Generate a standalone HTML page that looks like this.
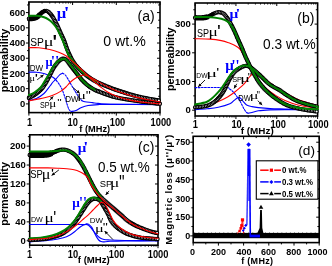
<!DOCTYPE html>
<html><head><meta charset="utf-8"><style>
html,body{margin:0;padding:0;background:#fff;overflow:hidden;width:332px;height:266px;}
svg{display:block;}
</style></head><body>
<svg width="332" height="266" viewBox="0 0 332 266" font-family="Liberation Sans, Arial, sans-serif">
<rect width="332" height="266" fill="#fff"/>
<rect x="28.90" y="2.00" width="131.10" height="110.60" fill="none" stroke="#000" stroke-width="1.6"/>
<rect x="195.10" y="3.00" width="122.50" height="113.00" fill="none" stroke="#000" stroke-width="1.6"/>
<rect x="29.70" y="134.80" width="128.30" height="110.40" fill="none" stroke="#000" stroke-width="1.6"/>
<rect x="193.20" y="136.30" width="126.00" height="106.30" fill="none" stroke="#000" stroke-width="1.6"/>
<line x1="28.90" y1="112.60" x2="28.90" y2="115.60" stroke="#000" stroke-width="1.0" />
<line x1="28.90" y1="2.00" x2="28.90" y2="5.00" stroke="#000" stroke-width="1.0" />
<line x1="42.06" y1="112.60" x2="42.06" y2="114.20" stroke="#000" stroke-width="0.8" />
<line x1="42.06" y1="2.00" x2="42.06" y2="3.60" stroke="#000" stroke-width="0.8" />
<line x1="49.75" y1="112.60" x2="49.75" y2="114.20" stroke="#000" stroke-width="0.8" />
<line x1="49.75" y1="2.00" x2="49.75" y2="3.60" stroke="#000" stroke-width="0.8" />
<line x1="55.21" y1="112.60" x2="55.21" y2="114.20" stroke="#000" stroke-width="0.8" />
<line x1="55.21" y1="2.00" x2="55.21" y2="3.60" stroke="#000" stroke-width="0.8" />
<line x1="59.44" y1="112.60" x2="59.44" y2="114.20" stroke="#000" stroke-width="0.8" />
<line x1="59.44" y1="2.00" x2="59.44" y2="3.60" stroke="#000" stroke-width="0.8" />
<line x1="62.91" y1="112.60" x2="62.91" y2="114.20" stroke="#000" stroke-width="0.8" />
<line x1="62.91" y1="2.00" x2="62.91" y2="3.60" stroke="#000" stroke-width="0.8" />
<line x1="65.83" y1="112.60" x2="65.83" y2="114.20" stroke="#000" stroke-width="0.8" />
<line x1="65.83" y1="2.00" x2="65.83" y2="3.60" stroke="#000" stroke-width="0.8" />
<line x1="68.37" y1="112.60" x2="68.37" y2="114.20" stroke="#000" stroke-width="0.8" />
<line x1="68.37" y1="2.00" x2="68.37" y2="3.60" stroke="#000" stroke-width="0.8" />
<line x1="70.60" y1="112.60" x2="70.60" y2="114.20" stroke="#000" stroke-width="0.8" />
<line x1="70.60" y1="2.00" x2="70.60" y2="3.60" stroke="#000" stroke-width="0.8" />
<line x1="72.60" y1="112.60" x2="72.60" y2="115.60" stroke="#000" stroke-width="1.0" />
<line x1="72.60" y1="2.00" x2="72.60" y2="5.00" stroke="#000" stroke-width="1.0" />
<line x1="85.76" y1="112.60" x2="85.76" y2="114.20" stroke="#000" stroke-width="0.8" />
<line x1="85.76" y1="2.00" x2="85.76" y2="3.60" stroke="#000" stroke-width="0.8" />
<line x1="93.45" y1="112.60" x2="93.45" y2="114.20" stroke="#000" stroke-width="0.8" />
<line x1="93.45" y1="2.00" x2="93.45" y2="3.60" stroke="#000" stroke-width="0.8" />
<line x1="98.91" y1="112.60" x2="98.91" y2="114.20" stroke="#000" stroke-width="0.8" />
<line x1="98.91" y1="2.00" x2="98.91" y2="3.60" stroke="#000" stroke-width="0.8" />
<line x1="103.14" y1="112.60" x2="103.14" y2="114.20" stroke="#000" stroke-width="0.8" />
<line x1="103.14" y1="2.00" x2="103.14" y2="3.60" stroke="#000" stroke-width="0.8" />
<line x1="106.61" y1="112.60" x2="106.61" y2="114.20" stroke="#000" stroke-width="0.8" />
<line x1="106.61" y1="2.00" x2="106.61" y2="3.60" stroke="#000" stroke-width="0.8" />
<line x1="109.53" y1="112.60" x2="109.53" y2="114.20" stroke="#000" stroke-width="0.8" />
<line x1="109.53" y1="2.00" x2="109.53" y2="3.60" stroke="#000" stroke-width="0.8" />
<line x1="112.07" y1="112.60" x2="112.07" y2="114.20" stroke="#000" stroke-width="0.8" />
<line x1="112.07" y1="2.00" x2="112.07" y2="3.60" stroke="#000" stroke-width="0.8" />
<line x1="114.30" y1="112.60" x2="114.30" y2="114.20" stroke="#000" stroke-width="0.8" />
<line x1="114.30" y1="2.00" x2="114.30" y2="3.60" stroke="#000" stroke-width="0.8" />
<line x1="116.30" y1="112.60" x2="116.30" y2="115.60" stroke="#000" stroke-width="1.0" />
<line x1="116.30" y1="2.00" x2="116.30" y2="5.00" stroke="#000" stroke-width="1.0" />
<line x1="129.46" y1="112.60" x2="129.46" y2="114.20" stroke="#000" stroke-width="0.8" />
<line x1="129.46" y1="2.00" x2="129.46" y2="3.60" stroke="#000" stroke-width="0.8" />
<line x1="137.15" y1="112.60" x2="137.15" y2="114.20" stroke="#000" stroke-width="0.8" />
<line x1="137.15" y1="2.00" x2="137.15" y2="3.60" stroke="#000" stroke-width="0.8" />
<line x1="142.61" y1="112.60" x2="142.61" y2="114.20" stroke="#000" stroke-width="0.8" />
<line x1="142.61" y1="2.00" x2="142.61" y2="3.60" stroke="#000" stroke-width="0.8" />
<line x1="146.84" y1="112.60" x2="146.84" y2="114.20" stroke="#000" stroke-width="0.8" />
<line x1="146.84" y1="2.00" x2="146.84" y2="3.60" stroke="#000" stroke-width="0.8" />
<line x1="150.31" y1="112.60" x2="150.31" y2="114.20" stroke="#000" stroke-width="0.8" />
<line x1="150.31" y1="2.00" x2="150.31" y2="3.60" stroke="#000" stroke-width="0.8" />
<line x1="153.23" y1="112.60" x2="153.23" y2="114.20" stroke="#000" stroke-width="0.8" />
<line x1="153.23" y1="2.00" x2="153.23" y2="3.60" stroke="#000" stroke-width="0.8" />
<line x1="155.77" y1="112.60" x2="155.77" y2="114.20" stroke="#000" stroke-width="0.8" />
<line x1="155.77" y1="2.00" x2="155.77" y2="3.60" stroke="#000" stroke-width="0.8" />
<line x1="158.00" y1="112.60" x2="158.00" y2="114.20" stroke="#000" stroke-width="0.8" />
<line x1="158.00" y1="2.00" x2="158.00" y2="3.60" stroke="#000" stroke-width="0.8" />
<line x1="160.00" y1="112.60" x2="160.00" y2="115.60" stroke="#000" stroke-width="1.0" />
<line x1="160.00" y1="2.00" x2="160.00" y2="5.00" stroke="#000" stroke-width="1.0" />
<line x1="195.10" y1="116.00" x2="195.10" y2="119.00" stroke="#000" stroke-width="1.0" />
<line x1="195.10" y1="3.00" x2="195.10" y2="6.00" stroke="#000" stroke-width="1.0" />
<line x1="207.39" y1="116.00" x2="207.39" y2="117.60" stroke="#000" stroke-width="0.8" />
<line x1="207.39" y1="3.00" x2="207.39" y2="4.60" stroke="#000" stroke-width="0.8" />
<line x1="214.58" y1="116.00" x2="214.58" y2="117.60" stroke="#000" stroke-width="0.8" />
<line x1="214.58" y1="3.00" x2="214.58" y2="4.60" stroke="#000" stroke-width="0.8" />
<line x1="219.68" y1="116.00" x2="219.68" y2="117.60" stroke="#000" stroke-width="0.8" />
<line x1="219.68" y1="3.00" x2="219.68" y2="4.60" stroke="#000" stroke-width="0.8" />
<line x1="223.64" y1="116.00" x2="223.64" y2="117.60" stroke="#000" stroke-width="0.8" />
<line x1="223.64" y1="3.00" x2="223.64" y2="4.60" stroke="#000" stroke-width="0.8" />
<line x1="226.87" y1="116.00" x2="226.87" y2="117.60" stroke="#000" stroke-width="0.8" />
<line x1="226.87" y1="3.00" x2="226.87" y2="4.60" stroke="#000" stroke-width="0.8" />
<line x1="229.61" y1="116.00" x2="229.61" y2="117.60" stroke="#000" stroke-width="0.8" />
<line x1="229.61" y1="3.00" x2="229.61" y2="4.60" stroke="#000" stroke-width="0.8" />
<line x1="231.98" y1="116.00" x2="231.98" y2="117.60" stroke="#000" stroke-width="0.8" />
<line x1="231.98" y1="3.00" x2="231.98" y2="4.60" stroke="#000" stroke-width="0.8" />
<line x1="234.06" y1="116.00" x2="234.06" y2="117.60" stroke="#000" stroke-width="0.8" />
<line x1="234.06" y1="3.00" x2="234.06" y2="4.60" stroke="#000" stroke-width="0.8" />
<line x1="235.93" y1="116.00" x2="235.93" y2="119.00" stroke="#000" stroke-width="1.0" />
<line x1="235.93" y1="3.00" x2="235.93" y2="6.00" stroke="#000" stroke-width="1.0" />
<line x1="248.23" y1="116.00" x2="248.23" y2="117.60" stroke="#000" stroke-width="0.8" />
<line x1="248.23" y1="3.00" x2="248.23" y2="4.60" stroke="#000" stroke-width="0.8" />
<line x1="255.42" y1="116.00" x2="255.42" y2="117.60" stroke="#000" stroke-width="0.8" />
<line x1="255.42" y1="3.00" x2="255.42" y2="4.60" stroke="#000" stroke-width="0.8" />
<line x1="260.52" y1="116.00" x2="260.52" y2="117.60" stroke="#000" stroke-width="0.8" />
<line x1="260.52" y1="3.00" x2="260.52" y2="4.60" stroke="#000" stroke-width="0.8" />
<line x1="264.47" y1="116.00" x2="264.47" y2="117.60" stroke="#000" stroke-width="0.8" />
<line x1="264.47" y1="3.00" x2="264.47" y2="4.60" stroke="#000" stroke-width="0.8" />
<line x1="267.71" y1="116.00" x2="267.71" y2="117.60" stroke="#000" stroke-width="0.8" />
<line x1="267.71" y1="3.00" x2="267.71" y2="4.60" stroke="#000" stroke-width="0.8" />
<line x1="270.44" y1="116.00" x2="270.44" y2="117.60" stroke="#000" stroke-width="0.8" />
<line x1="270.44" y1="3.00" x2="270.44" y2="4.60" stroke="#000" stroke-width="0.8" />
<line x1="272.81" y1="116.00" x2="272.81" y2="117.60" stroke="#000" stroke-width="0.8" />
<line x1="272.81" y1="3.00" x2="272.81" y2="4.60" stroke="#000" stroke-width="0.8" />
<line x1="274.90" y1="116.00" x2="274.90" y2="117.60" stroke="#000" stroke-width="0.8" />
<line x1="274.90" y1="3.00" x2="274.90" y2="4.60" stroke="#000" stroke-width="0.8" />
<line x1="276.77" y1="116.00" x2="276.77" y2="119.00" stroke="#000" stroke-width="1.0" />
<line x1="276.77" y1="3.00" x2="276.77" y2="6.00" stroke="#000" stroke-width="1.0" />
<line x1="289.06" y1="116.00" x2="289.06" y2="117.60" stroke="#000" stroke-width="0.8" />
<line x1="289.06" y1="3.00" x2="289.06" y2="4.60" stroke="#000" stroke-width="0.8" />
<line x1="296.25" y1="116.00" x2="296.25" y2="117.60" stroke="#000" stroke-width="0.8" />
<line x1="296.25" y1="3.00" x2="296.25" y2="4.60" stroke="#000" stroke-width="0.8" />
<line x1="301.35" y1="116.00" x2="301.35" y2="117.60" stroke="#000" stroke-width="0.8" />
<line x1="301.35" y1="3.00" x2="301.35" y2="4.60" stroke="#000" stroke-width="0.8" />
<line x1="305.31" y1="116.00" x2="305.31" y2="117.60" stroke="#000" stroke-width="0.8" />
<line x1="305.31" y1="3.00" x2="305.31" y2="4.60" stroke="#000" stroke-width="0.8" />
<line x1="308.54" y1="116.00" x2="308.54" y2="117.60" stroke="#000" stroke-width="0.8" />
<line x1="308.54" y1="3.00" x2="308.54" y2="4.60" stroke="#000" stroke-width="0.8" />
<line x1="311.27" y1="116.00" x2="311.27" y2="117.60" stroke="#000" stroke-width="0.8" />
<line x1="311.27" y1="3.00" x2="311.27" y2="4.60" stroke="#000" stroke-width="0.8" />
<line x1="313.64" y1="116.00" x2="313.64" y2="117.60" stroke="#000" stroke-width="0.8" />
<line x1="313.64" y1="3.00" x2="313.64" y2="4.60" stroke="#000" stroke-width="0.8" />
<line x1="315.73" y1="116.00" x2="315.73" y2="117.60" stroke="#000" stroke-width="0.8" />
<line x1="315.73" y1="3.00" x2="315.73" y2="4.60" stroke="#000" stroke-width="0.8" />
<line x1="317.60" y1="116.00" x2="317.60" y2="119.00" stroke="#000" stroke-width="1.0" />
<line x1="317.60" y1="3.00" x2="317.60" y2="6.00" stroke="#000" stroke-width="1.0" />
<line x1="29.70" y1="245.20" x2="29.70" y2="248.20" stroke="#000" stroke-width="1.0" />
<line x1="29.70" y1="134.80" x2="29.70" y2="137.80" stroke="#000" stroke-width="1.0" />
<line x1="42.57" y1="245.20" x2="42.57" y2="246.80" stroke="#000" stroke-width="0.8" />
<line x1="42.57" y1="134.80" x2="42.57" y2="136.40" stroke="#000" stroke-width="0.8" />
<line x1="50.10" y1="245.20" x2="50.10" y2="246.80" stroke="#000" stroke-width="0.8" />
<line x1="50.10" y1="134.80" x2="50.10" y2="136.40" stroke="#000" stroke-width="0.8" />
<line x1="55.45" y1="245.20" x2="55.45" y2="246.80" stroke="#000" stroke-width="0.8" />
<line x1="55.45" y1="134.80" x2="55.45" y2="136.40" stroke="#000" stroke-width="0.8" />
<line x1="59.59" y1="245.20" x2="59.59" y2="246.80" stroke="#000" stroke-width="0.8" />
<line x1="59.59" y1="134.80" x2="59.59" y2="136.40" stroke="#000" stroke-width="0.8" />
<line x1="62.98" y1="245.20" x2="62.98" y2="246.80" stroke="#000" stroke-width="0.8" />
<line x1="62.98" y1="134.80" x2="62.98" y2="136.40" stroke="#000" stroke-width="0.8" />
<line x1="65.84" y1="245.20" x2="65.84" y2="246.80" stroke="#000" stroke-width="0.8" />
<line x1="65.84" y1="134.80" x2="65.84" y2="136.40" stroke="#000" stroke-width="0.8" />
<line x1="68.32" y1="245.20" x2="68.32" y2="246.80" stroke="#000" stroke-width="0.8" />
<line x1="68.32" y1="134.80" x2="68.32" y2="136.40" stroke="#000" stroke-width="0.8" />
<line x1="70.51" y1="245.20" x2="70.51" y2="246.80" stroke="#000" stroke-width="0.8" />
<line x1="70.51" y1="134.80" x2="70.51" y2="136.40" stroke="#000" stroke-width="0.8" />
<line x1="72.47" y1="245.20" x2="72.47" y2="248.20" stroke="#000" stroke-width="1.0" />
<line x1="72.47" y1="134.80" x2="72.47" y2="137.80" stroke="#000" stroke-width="1.0" />
<line x1="85.34" y1="245.20" x2="85.34" y2="246.80" stroke="#000" stroke-width="0.8" />
<line x1="85.34" y1="134.80" x2="85.34" y2="136.40" stroke="#000" stroke-width="0.8" />
<line x1="92.87" y1="245.20" x2="92.87" y2="246.80" stroke="#000" stroke-width="0.8" />
<line x1="92.87" y1="134.80" x2="92.87" y2="136.40" stroke="#000" stroke-width="0.8" />
<line x1="98.21" y1="245.20" x2="98.21" y2="246.80" stroke="#000" stroke-width="0.8" />
<line x1="98.21" y1="134.80" x2="98.21" y2="136.40" stroke="#000" stroke-width="0.8" />
<line x1="102.36" y1="245.20" x2="102.36" y2="246.80" stroke="#000" stroke-width="0.8" />
<line x1="102.36" y1="134.80" x2="102.36" y2="136.40" stroke="#000" stroke-width="0.8" />
<line x1="105.75" y1="245.20" x2="105.75" y2="246.80" stroke="#000" stroke-width="0.8" />
<line x1="105.75" y1="134.80" x2="105.75" y2="136.40" stroke="#000" stroke-width="0.8" />
<line x1="108.61" y1="245.20" x2="108.61" y2="246.80" stroke="#000" stroke-width="0.8" />
<line x1="108.61" y1="134.80" x2="108.61" y2="136.40" stroke="#000" stroke-width="0.8" />
<line x1="111.09" y1="245.20" x2="111.09" y2="246.80" stroke="#000" stroke-width="0.8" />
<line x1="111.09" y1="134.80" x2="111.09" y2="136.40" stroke="#000" stroke-width="0.8" />
<line x1="113.28" y1="245.20" x2="113.28" y2="246.80" stroke="#000" stroke-width="0.8" />
<line x1="113.28" y1="134.80" x2="113.28" y2="136.40" stroke="#000" stroke-width="0.8" />
<line x1="115.23" y1="245.20" x2="115.23" y2="248.20" stroke="#000" stroke-width="1.0" />
<line x1="115.23" y1="134.80" x2="115.23" y2="137.80" stroke="#000" stroke-width="1.0" />
<line x1="128.11" y1="245.20" x2="128.11" y2="246.80" stroke="#000" stroke-width="0.8" />
<line x1="128.11" y1="134.80" x2="128.11" y2="136.40" stroke="#000" stroke-width="0.8" />
<line x1="135.64" y1="245.20" x2="135.64" y2="246.80" stroke="#000" stroke-width="0.8" />
<line x1="135.64" y1="134.80" x2="135.64" y2="136.40" stroke="#000" stroke-width="0.8" />
<line x1="140.98" y1="245.20" x2="140.98" y2="246.80" stroke="#000" stroke-width="0.8" />
<line x1="140.98" y1="134.80" x2="140.98" y2="136.40" stroke="#000" stroke-width="0.8" />
<line x1="145.13" y1="245.20" x2="145.13" y2="246.80" stroke="#000" stroke-width="0.8" />
<line x1="145.13" y1="134.80" x2="145.13" y2="136.40" stroke="#000" stroke-width="0.8" />
<line x1="148.51" y1="245.20" x2="148.51" y2="246.80" stroke="#000" stroke-width="0.8" />
<line x1="148.51" y1="134.80" x2="148.51" y2="136.40" stroke="#000" stroke-width="0.8" />
<line x1="151.38" y1="245.20" x2="151.38" y2="246.80" stroke="#000" stroke-width="0.8" />
<line x1="151.38" y1="134.80" x2="151.38" y2="136.40" stroke="#000" stroke-width="0.8" />
<line x1="153.86" y1="245.20" x2="153.86" y2="246.80" stroke="#000" stroke-width="0.8" />
<line x1="153.86" y1="134.80" x2="153.86" y2="136.40" stroke="#000" stroke-width="0.8" />
<line x1="156.04" y1="245.20" x2="156.04" y2="246.80" stroke="#000" stroke-width="0.8" />
<line x1="156.04" y1="134.80" x2="156.04" y2="136.40" stroke="#000" stroke-width="0.8" />
<line x1="158.00" y1="245.20" x2="158.00" y2="248.20" stroke="#000" stroke-width="1.0" />
<line x1="158.00" y1="134.80" x2="158.00" y2="137.80" stroke="#000" stroke-width="1.0" />
<line x1="193.20" y1="242.60" x2="193.20" y2="245.60" stroke="#000" stroke-width="1.0" />
<line x1="193.20" y1="136.30" x2="193.20" y2="139.30" stroke="#000" stroke-width="1.0" />
<line x1="218.40" y1="242.60" x2="218.40" y2="245.60" stroke="#000" stroke-width="1.0" />
<line x1="218.40" y1="136.30" x2="218.40" y2="139.30" stroke="#000" stroke-width="1.0" />
<line x1="243.60" y1="242.60" x2="243.60" y2="245.60" stroke="#000" stroke-width="1.0" />
<line x1="243.60" y1="136.30" x2="243.60" y2="139.30" stroke="#000" stroke-width="1.0" />
<line x1="268.80" y1="242.60" x2="268.80" y2="245.60" stroke="#000" stroke-width="1.0" />
<line x1="268.80" y1="136.30" x2="268.80" y2="139.30" stroke="#000" stroke-width="1.0" />
<line x1="294.00" y1="242.60" x2="294.00" y2="245.60" stroke="#000" stroke-width="1.0" />
<line x1="294.00" y1="136.30" x2="294.00" y2="139.30" stroke="#000" stroke-width="1.0" />
<line x1="319.20" y1="242.60" x2="319.20" y2="245.60" stroke="#000" stroke-width="1.0" />
<line x1="319.20" y1="136.30" x2="319.20" y2="139.30" stroke="#000" stroke-width="1.0" />
<line x1="205.80" y1="242.60" x2="205.80" y2="244.40" stroke="#000" stroke-width="1.0" />
<line x1="205.80" y1="136.30" x2="205.80" y2="138.10" stroke="#000" stroke-width="1.0" />
<line x1="231.00" y1="242.60" x2="231.00" y2="244.40" stroke="#000" stroke-width="1.0" />
<line x1="231.00" y1="136.30" x2="231.00" y2="138.10" stroke="#000" stroke-width="1.0" />
<line x1="256.20" y1="242.60" x2="256.20" y2="244.40" stroke="#000" stroke-width="1.0" />
<line x1="256.20" y1="136.30" x2="256.20" y2="138.10" stroke="#000" stroke-width="1.0" />
<line x1="281.40" y1="242.60" x2="281.40" y2="244.40" stroke="#000" stroke-width="1.0" />
<line x1="281.40" y1="136.30" x2="281.40" y2="138.10" stroke="#000" stroke-width="1.0" />
<line x1="306.60" y1="242.60" x2="306.60" y2="244.40" stroke="#000" stroke-width="1.0" />
<line x1="306.60" y1="136.30" x2="306.60" y2="138.10" stroke="#000" stroke-width="1.0" />
<line x1="25.90" y1="103.90" x2="28.90" y2="103.90" stroke="#000" stroke-width="1.0" />
<line x1="157.00" y1="103.90" x2="160.00" y2="103.90" stroke="#000" stroke-width="1.0" />
<line x1="25.90" y1="88.68" x2="28.90" y2="88.68" stroke="#000" stroke-width="1.0" />
<line x1="157.00" y1="88.68" x2="160.00" y2="88.68" stroke="#000" stroke-width="1.0" />
<line x1="25.90" y1="73.46" x2="28.90" y2="73.46" stroke="#000" stroke-width="1.0" />
<line x1="157.00" y1="73.46" x2="160.00" y2="73.46" stroke="#000" stroke-width="1.0" />
<line x1="25.90" y1="58.24" x2="28.90" y2="58.24" stroke="#000" stroke-width="1.0" />
<line x1="157.00" y1="58.24" x2="160.00" y2="58.24" stroke="#000" stroke-width="1.0" />
<line x1="25.90" y1="43.02" x2="28.90" y2="43.02" stroke="#000" stroke-width="1.0" />
<line x1="157.00" y1="43.02" x2="160.00" y2="43.02" stroke="#000" stroke-width="1.0" />
<line x1="25.90" y1="27.80" x2="28.90" y2="27.80" stroke="#000" stroke-width="1.0" />
<line x1="157.00" y1="27.80" x2="160.00" y2="27.80" stroke="#000" stroke-width="1.0" />
<line x1="25.90" y1="12.58" x2="28.90" y2="12.58" stroke="#000" stroke-width="1.0" />
<line x1="157.00" y1="12.58" x2="160.00" y2="12.58" stroke="#000" stroke-width="1.0" />
<line x1="27.10" y1="96.29" x2="28.90" y2="96.29" stroke="#000" stroke-width="1.0" />
<line x1="158.20" y1="96.29" x2="160.00" y2="96.29" stroke="#000" stroke-width="1.0" />
<line x1="27.10" y1="81.07" x2="28.90" y2="81.07" stroke="#000" stroke-width="1.0" />
<line x1="158.20" y1="81.07" x2="160.00" y2="81.07" stroke="#000" stroke-width="1.0" />
<line x1="27.10" y1="65.85" x2="28.90" y2="65.85" stroke="#000" stroke-width="1.0" />
<line x1="158.20" y1="65.85" x2="160.00" y2="65.85" stroke="#000" stroke-width="1.0" />
<line x1="27.10" y1="50.63" x2="28.90" y2="50.63" stroke="#000" stroke-width="1.0" />
<line x1="158.20" y1="50.63" x2="160.00" y2="50.63" stroke="#000" stroke-width="1.0" />
<line x1="27.10" y1="35.41" x2="28.90" y2="35.41" stroke="#000" stroke-width="1.0" />
<line x1="158.20" y1="35.41" x2="160.00" y2="35.41" stroke="#000" stroke-width="1.0" />
<line x1="27.10" y1="20.19" x2="28.90" y2="20.19" stroke="#000" stroke-width="1.0" />
<line x1="158.20" y1="20.19" x2="160.00" y2="20.19" stroke="#000" stroke-width="1.0" />
<line x1="27.10" y1="4.97" x2="28.90" y2="4.97" stroke="#000" stroke-width="1.0" />
<line x1="158.20" y1="4.97" x2="160.00" y2="4.97" stroke="#000" stroke-width="1.0" />
<line x1="192.10" y1="110.20" x2="195.10" y2="110.20" stroke="#000" stroke-width="1.0" />
<line x1="314.60" y1="110.20" x2="317.60" y2="110.20" stroke="#000" stroke-width="1.0" />
<line x1="192.10" y1="81.50" x2="195.10" y2="81.50" stroke="#000" stroke-width="1.0" />
<line x1="314.60" y1="81.50" x2="317.60" y2="81.50" stroke="#000" stroke-width="1.0" />
<line x1="192.10" y1="52.80" x2="195.10" y2="52.80" stroke="#000" stroke-width="1.0" />
<line x1="314.60" y1="52.80" x2="317.60" y2="52.80" stroke="#000" stroke-width="1.0" />
<line x1="192.10" y1="24.10" x2="195.10" y2="24.10" stroke="#000" stroke-width="1.0" />
<line x1="314.60" y1="24.10" x2="317.60" y2="24.10" stroke="#000" stroke-width="1.0" />
<line x1="193.30" y1="95.85" x2="195.10" y2="95.85" stroke="#000" stroke-width="1.0" />
<line x1="315.80" y1="95.85" x2="317.60" y2="95.85" stroke="#000" stroke-width="1.0" />
<line x1="193.30" y1="67.15" x2="195.10" y2="67.15" stroke="#000" stroke-width="1.0" />
<line x1="315.80" y1="67.15" x2="317.60" y2="67.15" stroke="#000" stroke-width="1.0" />
<line x1="193.30" y1="38.45" x2="195.10" y2="38.45" stroke="#000" stroke-width="1.0" />
<line x1="315.80" y1="38.45" x2="317.60" y2="38.45" stroke="#000" stroke-width="1.0" />
<line x1="193.30" y1="9.75" x2="195.10" y2="9.75" stroke="#000" stroke-width="1.0" />
<line x1="315.80" y1="9.75" x2="317.60" y2="9.75" stroke="#000" stroke-width="1.0" />
<line x1="26.70" y1="240.80" x2="29.70" y2="240.80" stroke="#000" stroke-width="1.0" />
<line x1="155.00" y1="240.80" x2="158.00" y2="240.80" stroke="#000" stroke-width="1.0" />
<line x1="26.70" y1="221.86" x2="29.70" y2="221.86" stroke="#000" stroke-width="1.0" />
<line x1="155.00" y1="221.86" x2="158.00" y2="221.86" stroke="#000" stroke-width="1.0" />
<line x1="26.70" y1="202.92" x2="29.70" y2="202.92" stroke="#000" stroke-width="1.0" />
<line x1="155.00" y1="202.92" x2="158.00" y2="202.92" stroke="#000" stroke-width="1.0" />
<line x1="26.70" y1="183.98" x2="29.70" y2="183.98" stroke="#000" stroke-width="1.0" />
<line x1="155.00" y1="183.98" x2="158.00" y2="183.98" stroke="#000" stroke-width="1.0" />
<line x1="26.70" y1="165.04" x2="29.70" y2="165.04" stroke="#000" stroke-width="1.0" />
<line x1="155.00" y1="165.04" x2="158.00" y2="165.04" stroke="#000" stroke-width="1.0" />
<line x1="26.70" y1="146.10" x2="29.70" y2="146.10" stroke="#000" stroke-width="1.0" />
<line x1="155.00" y1="146.10" x2="158.00" y2="146.10" stroke="#000" stroke-width="1.0" />
<line x1="27.90" y1="231.33" x2="29.70" y2="231.33" stroke="#000" stroke-width="1.0" />
<line x1="156.20" y1="231.33" x2="158.00" y2="231.33" stroke="#000" stroke-width="1.0" />
<line x1="27.90" y1="212.39" x2="29.70" y2="212.39" stroke="#000" stroke-width="1.0" />
<line x1="156.20" y1="212.39" x2="158.00" y2="212.39" stroke="#000" stroke-width="1.0" />
<line x1="27.90" y1="193.45" x2="29.70" y2="193.45" stroke="#000" stroke-width="1.0" />
<line x1="156.20" y1="193.45" x2="158.00" y2="193.45" stroke="#000" stroke-width="1.0" />
<line x1="27.90" y1="174.51" x2="29.70" y2="174.51" stroke="#000" stroke-width="1.0" />
<line x1="156.20" y1="174.51" x2="158.00" y2="174.51" stroke="#000" stroke-width="1.0" />
<line x1="27.90" y1="155.57" x2="29.70" y2="155.57" stroke="#000" stroke-width="1.0" />
<line x1="156.20" y1="155.57" x2="158.00" y2="155.57" stroke="#000" stroke-width="1.0" />
<line x1="27.90" y1="136.63" x2="29.70" y2="136.63" stroke="#000" stroke-width="1.0" />
<line x1="156.20" y1="136.63" x2="158.00" y2="136.63" stroke="#000" stroke-width="1.0" />
<line x1="190.20" y1="235.90" x2="193.20" y2="235.90" stroke="#000" stroke-width="1.0" />
<line x1="316.20" y1="235.90" x2="319.20" y2="235.90" stroke="#000" stroke-width="1.0" />
<line x1="190.20" y1="217.17" x2="193.20" y2="217.17" stroke="#000" stroke-width="1.0" />
<line x1="316.20" y1="217.17" x2="319.20" y2="217.17" stroke="#000" stroke-width="1.0" />
<line x1="190.20" y1="198.43" x2="193.20" y2="198.43" stroke="#000" stroke-width="1.0" />
<line x1="316.20" y1="198.43" x2="319.20" y2="198.43" stroke="#000" stroke-width="1.0" />
<line x1="190.20" y1="179.69" x2="193.20" y2="179.69" stroke="#000" stroke-width="1.0" />
<line x1="316.20" y1="179.69" x2="319.20" y2="179.69" stroke="#000" stroke-width="1.0" />
<line x1="190.20" y1="160.96" x2="193.20" y2="160.96" stroke="#000" stroke-width="1.0" />
<line x1="316.20" y1="160.96" x2="319.20" y2="160.96" stroke="#000" stroke-width="1.0" />
<line x1="190.20" y1="142.23" x2="193.20" y2="142.23" stroke="#000" stroke-width="1.0" />
<line x1="316.20" y1="142.23" x2="319.20" y2="142.23" stroke="#000" stroke-width="1.0" />
<line x1="191.40" y1="226.53" x2="193.20" y2="226.53" stroke="#000" stroke-width="1.0" />
<line x1="317.40" y1="226.53" x2="319.20" y2="226.53" stroke="#000" stroke-width="1.0" />
<line x1="191.40" y1="207.80" x2="193.20" y2="207.80" stroke="#000" stroke-width="1.0" />
<line x1="317.40" y1="207.80" x2="319.20" y2="207.80" stroke="#000" stroke-width="1.0" />
<line x1="191.40" y1="189.06" x2="193.20" y2="189.06" stroke="#000" stroke-width="1.0" />
<line x1="317.40" y1="189.06" x2="319.20" y2="189.06" stroke="#000" stroke-width="1.0" />
<line x1="191.40" y1="170.33" x2="193.20" y2="170.33" stroke="#000" stroke-width="1.0" />
<line x1="317.40" y1="170.33" x2="319.20" y2="170.33" stroke="#000" stroke-width="1.0" />
<line x1="191.40" y1="151.59" x2="193.20" y2="151.59" stroke="#000" stroke-width="1.0" />
<line x1="317.40" y1="151.59" x2="319.20" y2="151.59" stroke="#000" stroke-width="1.0" />
<line x1="191.40" y1="132.86" x2="193.20" y2="132.86" stroke="#000" stroke-width="1.0" />
<line x1="317.40" y1="132.86" x2="319.20" y2="132.86" stroke="#000" stroke-width="1.0" />
<text transform="translate(25.30,107.10) scale(0.97,1)" font-size="9.8" font-weight="bold" text-anchor="end" fill="#000" >0</text>
<text transform="translate(25.30,91.88) scale(0.97,1)" font-size="9.8" font-weight="bold" text-anchor="end" fill="#000" >100</text>
<text transform="translate(25.30,76.66) scale(0.97,1)" font-size="9.8" font-weight="bold" text-anchor="end" fill="#000" >200</text>
<text transform="translate(25.30,61.44) scale(0.97,1)" font-size="9.8" font-weight="bold" text-anchor="end" fill="#000" >300</text>
<text transform="translate(25.30,46.22) scale(0.97,1)" font-size="9.8" font-weight="bold" text-anchor="end" fill="#000" >400</text>
<text transform="translate(25.30,31.00) scale(0.97,1)" font-size="9.8" font-weight="bold" text-anchor="end" fill="#000" >500</text>
<text transform="translate(25.30,15.78) scale(0.97,1)" font-size="9.8" font-weight="bold" text-anchor="end" fill="#000" >600</text>
<text transform="translate(190.80,113.40) scale(0.97,1)" font-size="9.8" font-weight="bold" text-anchor="end" fill="#000" >0</text>
<text transform="translate(190.80,84.70) scale(0.97,1)" font-size="9.8" font-weight="bold" text-anchor="end" fill="#000" >100</text>
<text transform="translate(190.80,56.00) scale(0.97,1)" font-size="9.8" font-weight="bold" text-anchor="end" fill="#000" >200</text>
<text transform="translate(190.80,27.30) scale(0.97,1)" font-size="9.8" font-weight="bold" text-anchor="end" fill="#000" >300</text>
<text transform="translate(25.80,244.00) scale(0.97,1)" font-size="9.8" font-weight="bold" text-anchor="end" fill="#000" >0</text>
<text transform="translate(25.80,225.06) scale(0.97,1)" font-size="9.8" font-weight="bold" text-anchor="end" fill="#000" >40</text>
<text transform="translate(25.80,206.12) scale(0.97,1)" font-size="9.8" font-weight="bold" text-anchor="end" fill="#000" >80</text>
<text transform="translate(25.80,187.18) scale(0.97,1)" font-size="9.8" font-weight="bold" text-anchor="end" fill="#000" >120</text>
<text transform="translate(25.80,168.24) scale(0.97,1)" font-size="9.8" font-weight="bold" text-anchor="end" fill="#000" >160</text>
<text transform="translate(25.80,149.30) scale(0.97,1)" font-size="9.8" font-weight="bold" text-anchor="end" fill="#000" >200</text>
<text x="190.30" y="239.10" font-size="9.0" font-weight="bold" text-anchor="end" fill="#000" >0</text>
<text x="190.30" y="220.37" font-size="9.0" font-weight="bold" text-anchor="end" fill="#000" >150</text>
<text x="190.30" y="201.63" font-size="9.0" font-weight="bold" text-anchor="end" fill="#000" >300</text>
<text x="190.30" y="182.89" font-size="9.0" font-weight="bold" text-anchor="end" fill="#000" >450</text>
<text x="190.30" y="164.16" font-size="9.0" font-weight="bold" text-anchor="end" fill="#000" >600</text>
<text x="190.30" y="145.43" font-size="9.0" font-weight="bold" text-anchor="end" fill="#000" >750</text>
<text transform="translate(29.50,125.50) scale(0.93,1)" font-size="10.0" font-weight="bold" text-anchor="middle" fill="#000" >1</text>
<text transform="translate(72.70,125.50) scale(0.93,1)" font-size="10.0" font-weight="bold" text-anchor="middle" fill="#000" >10</text>
<text transform="translate(117.50,125.50) scale(0.93,1)" font-size="10.0" font-weight="bold" text-anchor="middle" fill="#000" >100</text>
<text transform="translate(160.90,125.50) scale(0.93,1)" font-size="10.0" font-weight="bold" text-anchor="middle" fill="#000" >1000</text>
<text transform="translate(195.40,128.20) scale(0.93,1)" font-size="10.0" font-weight="bold" text-anchor="middle" fill="#000" >1</text>
<text transform="translate(236.60,128.20) scale(0.93,1)" font-size="10.0" font-weight="bold" text-anchor="middle" fill="#000" >10</text>
<text transform="translate(278.20,128.20) scale(0.93,1)" font-size="10.0" font-weight="bold" text-anchor="middle" fill="#000" >100</text>
<text transform="translate(318.30,128.20) scale(0.93,1)" font-size="10.0" font-weight="bold" text-anchor="middle" fill="#000" >1000</text>
<text transform="translate(29.60,257.80) scale(0.93,1)" font-size="10.0" font-weight="bold" text-anchor="middle" fill="#000" >1</text>
<text transform="translate(73.00,257.80) scale(0.93,1)" font-size="10.0" font-weight="bold" text-anchor="middle" fill="#000" >10</text>
<text transform="translate(116.60,257.80) scale(0.93,1)" font-size="10.0" font-weight="bold" text-anchor="middle" fill="#000" >100</text>
<text transform="translate(158.10,257.80) scale(0.93,1)" font-size="10.0" font-weight="bold" text-anchor="middle" fill="#000" >1000</text>
<text x="192.60" y="254.90" font-size="9.0" font-weight="bold" text-anchor="middle" fill="#000" >0</text>
<text x="218.60" y="254.90" font-size="9.0" font-weight="bold" text-anchor="middle" fill="#000" >200</text>
<text x="244.00" y="254.90" font-size="9.0" font-weight="bold" text-anchor="middle" fill="#000" >400</text>
<text x="268.40" y="254.90" font-size="9.0" font-weight="bold" text-anchor="middle" fill="#000" >600</text>
<text x="293.70" y="254.90" font-size="9.0" font-weight="bold" text-anchor="middle" fill="#000" >800</text>
<text x="317.60" y="254.90" font-size="9.0" font-weight="bold" text-anchor="middle" fill="#000" >1000</text>
<text x="79.30" y="131.80" font-size="9.4" font-weight="bold" text-anchor="start" fill="#000"  textLength="30.8" lengthAdjust="spacingAndGlyphs">f (MHz)</text>
<text x="240.70" y="133.60" font-size="9.6" font-weight="bold" text-anchor="start" fill="#000"  textLength="33.0" lengthAdjust="spacingAndGlyphs">f (MHz)</text>
<text x="77.80" y="262.80" font-size="9.4" font-weight="bold" text-anchor="start" fill="#000"  textLength="32.0" lengthAdjust="spacingAndGlyphs">f (MHz)</text>
<text x="241.20" y="263.60" font-size="9.0" font-weight="bold" text-anchor="start" fill="#000"  textLength="31.8" lengthAdjust="spacing">f (MHz)</text>
<text x="0" y="0" font-size="10.8" font-weight="bold" text-anchor="middle" transform="translate(7.90,60.50) rotate(-90)" >permeability</text>
<text x="0" y="0" font-size="10.8" font-weight="bold" text-anchor="middle" transform="translate(174.10,59.20) rotate(-90)" >permeability</text>
<text x="0" y="0" font-size="10.8" font-weight="bold" text-anchor="middle" transform="translate(7.90,193.90) rotate(-90)" >permeability</text>
<text x="0" y="0" font-size="9.6" font-weight="bold" text-anchor="middle" transform="translate(172.00,189.80) rotate(-90)"  textLength="109.8" lengthAdjust="spacing">Magnetic loss (μ''/μ')</text>
<text x="137.60" y="20.70" font-size="14" font-weight="normal" text-anchor="start" fill="#000" >(a)</text>
<text x="297.30" y="22.80" font-size="14" font-weight="normal" text-anchor="start" fill="#000" >(b)</text>
<text x="138.00" y="152.00" font-size="14" font-weight="normal" text-anchor="start" fill="#000" >(c)</text>
<text x="298.30" y="154.80" font-size="13.7" font-weight="normal" text-anchor="start" fill="#000" >(d)</text>
<text x="103.30" y="45.60" font-size="14.8" font-weight="normal" text-anchor="start" fill="#000"  textLength="42.5" lengthAdjust="spacingAndGlyphs">0 wt.%</text>
<text x="263.10" y="49.00" font-size="15.4" font-weight="normal" text-anchor="start" fill="#000"  textLength="52.6" lengthAdjust="spacingAndGlyphs">0.3 wt.%</text>
<text x="98.10" y="172.00" font-size="15.4" font-weight="normal" text-anchor="start" fill="#000"  textLength="51.6" lengthAdjust="spacingAndGlyphs">0.5 wt.%</text>
<path d="M28.90,72.20 C30.15,72.20 33.75,71.93 36.40,72.20 C39.05,72.47 42.53,73.18 44.80,73.80 C47.07,74.42 48.53,75.25 50.00,75.90 C51.47,76.55 52.55,76.95 53.60,77.70 C54.65,78.45 55.85,79.95 56.30,80.40" fill="none" stroke="#0000ff" stroke-width="1.1" stroke-linejoin="round" stroke-linecap="round" />
<path d="M56.30,80.40 C56.75,81.00 58.10,82.63 59.00,84.00 C59.90,85.37 60.78,86.60 61.70,88.60 C62.62,90.60 63.62,93.43 64.50,96.00 C65.38,98.57 66.25,101.75 67.00,104.00 C67.75,106.25 68.33,108.25 69.00,109.50 C69.67,110.75 70.67,111.17 71.00,111.50" fill="none" stroke="#0000ff" stroke-width="1.1" stroke-dasharray="1.8 1.4" stroke-linejoin="round" stroke-linecap="round" />
<path d="M71.00,111.50 C71.83,111.33 74.25,111.17 76.00,110.50 C77.75,109.83 79.50,108.33 81.50,107.50 C83.50,106.67 85.25,105.98 88.00,105.50 C90.75,105.02 94.33,104.78 98.00,104.60 C101.67,104.42 99.67,104.43 110.00,104.40 C120.33,104.37 151.67,104.40 160.00,104.40" fill="none" stroke="#0000ff" stroke-width="1.1" stroke-linejoin="round" stroke-linecap="round" />
<path d="M28.90,100.50 C30.15,100.15 33.88,99.57 36.40,98.40 C38.92,97.23 41.73,95.57 44.00,93.50 C46.27,91.43 48.50,87.92 50.00,86.00 C51.50,84.08 51.95,83.23 53.00,82.00 C54.05,80.77 55.15,79.83 56.30,78.60 C57.45,77.37 58.85,75.50 59.90,74.60 C60.95,73.70 62.15,73.43 62.60,73.20" fill="none" stroke="#0000ff" stroke-width="1.1" stroke-linejoin="round" stroke-linecap="round" />
<path d="M62.60,73.20 C63.05,73.50 64.40,74.02 65.30,75.00 C66.20,75.98 67.08,77.60 68.00,79.10 C68.92,80.60 69.88,82.42 70.80,84.00 C71.72,85.58 72.55,87.02 73.50,88.60 C74.45,90.18 75.50,91.93 76.50,93.50 C77.50,95.07 78.58,96.80 79.50,98.00 C80.42,99.20 81.58,100.25 82.00,100.70" fill="none" stroke="#0000ff" stroke-width="1.1" stroke-dasharray="1.8 1.4" stroke-linejoin="round" stroke-linecap="round" />
<path d="M82.00,100.70 C82.50,100.88 83.27,101.48 85.00,101.80 C86.73,102.12 90.23,102.33 92.40,102.60 C94.57,102.87 95.07,103.13 98.00,103.40 C100.93,103.67 99.67,104.00 110.00,104.20 C120.33,104.40 151.67,104.53 160.00,104.60" fill="none" stroke="#0000ff" stroke-width="1.1" stroke-linejoin="round" stroke-linecap="round" />
<path d="M88.60,86.00 C89.60,86.60 92.70,88.63 94.60,89.60 C96.50,90.57 96.10,90.47 100.00,91.80 C103.90,93.13 111.78,96.10 118.00,97.60 C124.22,99.10 130.97,99.85 137.30,100.80 C143.63,101.75 152.22,102.83 156.00,103.30 C159.78,103.77 159.33,103.55 160.00,103.60" fill="none" stroke="#008000" stroke-width="2.0" stroke-linejoin="round" stroke-linecap="round" />
<path d="M88.60,77.00 C89.83,77.75 93.10,79.97 96.00,81.50 C98.90,83.03 102.33,84.67 106.00,86.20 C109.67,87.73 112.78,89.00 118.00,90.70 C123.22,92.40 130.97,94.85 137.30,96.40 C143.63,97.95 152.22,99.30 156.00,100.00 C159.78,100.70 159.33,100.50 160.00,100.60" fill="none" stroke="#008000" stroke-width="2.0" stroke-linejoin="round" stroke-linecap="round" />
<g fill="#fff" stroke="#000" stroke-width="1.15"><circle cx="28.90" cy="98.00" r="1.6"/><circle cx="30.29" cy="97.29" r="1.6"/><circle cx="31.66" cy="96.57" r="1.6"/><circle cx="33.00" cy="95.82" r="1.6"/><circle cx="34.30" cy="95.00" r="1.6"/><circle cx="35.54" cy="94.14" r="1.6"/><circle cx="36.77" cy="93.23" r="1.6"/><circle cx="38.02" cy="92.26" r="1.6"/><circle cx="39.23" cy="91.27" r="1.6"/><circle cx="40.40" cy="90.20" r="1.6"/><circle cx="41.46" cy="89.09" r="1.6"/><circle cx="42.43" cy="87.93" r="1.6"/><circle cx="43.37" cy="86.66" r="1.6"/><circle cx="44.24" cy="85.36" r="1.6"/><circle cx="45.06" cy="84.09" r="1.6"/><circle cx="45.85" cy="82.79" r="1.6"/><circle cx="46.63" cy="81.41" r="1.6"/><circle cx="47.37" cy="80.07" r="1.6"/><circle cx="48.10" cy="78.70" r="1.6"/><circle cx="48.84" cy="77.30" r="1.6"/><circle cx="49.53" cy="75.97" r="1.6"/><circle cx="50.23" cy="74.56" r="1.6"/><circle cx="50.93" cy="73.10" r="1.6"/><circle cx="51.64" cy="71.66" r="1.6"/><circle cx="52.34" cy="70.26" r="1.6"/><circle cx="53.09" cy="68.87" r="1.6"/><circle cx="53.88" cy="67.53" r="1.6"/><circle cx="54.72" cy="66.20" r="1.6"/><circle cx="55.62" cy="64.89" r="1.6"/><circle cx="56.56" cy="63.63" r="1.6"/><circle cx="57.55" cy="62.44" r="1.6"/><circle cx="58.66" cy="61.32" r="1.6"/><circle cx="59.86" cy="60.31" r="1.6"/><circle cx="61.11" cy="59.40" r="1.6"/><circle cx="62.40" cy="58.61" r="1.6"/><circle cx="63.89" cy="58.66" r="1.6"/><circle cx="65.31" cy="59.13" r="1.6"/><circle cx="66.51" cy="60.06" r="1.6"/><circle cx="67.46" cy="61.28" r="1.6"/><circle cx="68.40" cy="62.53" r="1.6"/><circle cx="69.27" cy="63.75" r="1.6"/><circle cx="70.16" cy="65.01" r="1.6"/><circle cx="71.10" cy="66.30" r="1.6"/><circle cx="72.06" cy="67.58" r="1.6"/><circle cx="73.02" cy="68.81" r="1.6"/><circle cx="74.01" cy="70.06" r="1.6"/><circle cx="74.97" cy="71.25" r="1.6"/><circle cx="75.93" cy="72.44" r="1.6"/><circle cx="76.94" cy="73.69" r="1.6"/><circle cx="77.93" cy="74.92" r="1.6"/><circle cx="78.91" cy="76.16" r="1.6"/><circle cx="79.83" cy="77.34" r="1.6"/><circle cx="80.76" cy="78.53" r="1.6"/><circle cx="81.75" cy="79.69" r="1.6"/><circle cx="82.84" cy="80.85" r="1.6"/><circle cx="83.91" cy="81.91" r="1.6"/><circle cx="85.06" cy="83.00" r="1.6"/><circle cx="86.25" cy="84.06" r="1.6"/><circle cx="87.44" cy="85.07" r="1.6"/><circle cx="88.68" cy="86.06" r="1.6"/><circle cx="89.89" cy="86.95" r="1.6"/><circle cx="91.19" cy="87.82" r="1.6"/><circle cx="92.47" cy="88.61" r="1.6"/><circle cx="93.81" cy="89.37" r="1.6"/><circle cx="95.15" cy="90.08" r="1.6"/><circle cx="96.55" cy="90.71" r="1.6"/><circle cx="98.01" cy="91.26" r="1.6"/><circle cx="99.43" cy="91.78" r="1.6"/><circle cx="100.86" cy="92.34" r="1.6"/><circle cx="102.34" cy="92.92" r="1.6"/><circle cx="103.81" cy="93.50" r="1.6"/><circle cx="105.27" cy="94.05" r="1.6"/><circle cx="106.78" cy="94.59" r="1.6"/><circle cx="108.22" cy="95.07" r="1.6"/><circle cx="109.72" cy="95.57" r="1.6"/><circle cx="111.19" cy="96.05" r="1.6"/><circle cx="112.64" cy="96.49" r="1.6"/><circle cx="114.12" cy="96.90" r="1.6"/><circle cx="115.67" cy="97.29" r="1.6"/><circle cx="117.29" cy="97.65" r="1.6"/><circle cx="118.95" cy="97.99" r="1.6"/><circle cx="120.61" cy="98.31" r="1.6"/><circle cx="122.19" cy="98.59" r="1.6"/><circle cx="123.85" cy="98.88" r="1.6"/><circle cx="125.33" cy="99.13" r="1.6"/><circle cx="126.85" cy="99.38" r="1.6"/><circle cx="128.40" cy="99.63" r="1.6"/><circle cx="129.96" cy="99.88" r="1.6"/><circle cx="131.52" cy="100.13" r="1.6"/><circle cx="133.07" cy="100.37" r="1.6"/><circle cx="134.60" cy="100.60" r="1.6"/><circle cx="136.09" cy="100.82" r="1.6"/><circle cx="137.78" cy="101.07" r="1.6"/><circle cx="139.51" cy="101.32" r="1.6"/><circle cx="141.05" cy="101.53" r="1.6"/><circle cx="142.63" cy="101.74" r="1.6"/><circle cx="144.21" cy="101.95" r="1.6"/><circle cx="145.79" cy="102.15" r="1.6"/><circle cx="147.35" cy="102.35" r="1.6"/><circle cx="148.87" cy="102.54" r="1.6"/><circle cx="150.57" cy="102.75" r="1.6"/><circle cx="152.16" cy="102.94" r="1.6"/><circle cx="153.81" cy="103.14" r="1.6"/><circle cx="155.40" cy="103.33" r="1.6"/><circle cx="156.90" cy="103.50" r="1.6"/><circle cx="158.41" cy="103.65" r="1.6"/><circle cx="159.91" cy="103.69" r="1.6"/></g>
<g fill="#fff" stroke="#000" stroke-width="1.15"><circle cx="28.90" cy="18.60" r="1.6"/><circle cx="30.42" cy="18.69" r="1.6"/><circle cx="31.93" cy="18.67" r="1.6"/><circle cx="33.45" cy="18.44" r="1.6"/><circle cx="34.92" cy="18.11" r="1.6"/><circle cx="36.37" cy="17.56" r="1.6"/><circle cx="37.62" cy="16.73" r="1.6"/><circle cx="38.72" cy="15.66" r="1.6"/><circle cx="39.75" cy="14.52" r="1.6"/><circle cx="40.81" cy="13.41" r="1.6"/><circle cx="42.01" cy="12.42" r="1.6"/><circle cx="43.30" cy="11.62" r="1.6"/><circle cx="44.69" cy="11.03" r="1.6"/><circle cx="46.20" cy="10.86" r="1.6"/><circle cx="47.63" cy="11.35" r="1.6"/><circle cx="48.87" cy="12.26" r="1.6"/><circle cx="49.96" cy="13.32" r="1.6"/><circle cx="50.97" cy="14.47" r="1.6"/><circle cx="51.92" cy="15.68" r="1.6"/><circle cx="52.76" cy="16.93" r="1.6"/><circle cx="53.54" cy="18.28" r="1.6"/><circle cx="54.27" cy="19.62" r="1.6"/><circle cx="55.00" cy="21.00" r="1.6"/><circle cx="55.71" cy="22.35" r="1.6"/><circle cx="56.43" cy="23.75" r="1.6"/><circle cx="57.10" cy="25.12" r="1.6"/><circle cx="57.77" cy="26.52" r="1.6"/><circle cx="58.41" cy="27.89" r="1.6"/><circle cx="59.05" cy="29.32" r="1.6"/><circle cx="59.64" cy="30.70" r="1.6"/><circle cx="60.24" cy="32.09" r="1.6"/><circle cx="60.85" cy="33.46" r="1.6"/><circle cx="61.49" cy="34.86" r="1.6"/><circle cx="62.18" cy="36.27" r="1.6"/><circle cx="62.87" cy="37.70" r="1.6"/><circle cx="63.50" cy="39.07" r="1.6"/><circle cx="64.10" cy="40.50" r="1.6"/><circle cx="64.66" cy="42.00" r="1.6"/><circle cx="65.18" cy="43.50" r="1.6"/><circle cx="65.67" cy="44.95" r="1.6"/><circle cx="66.17" cy="46.44" r="1.6"/><circle cx="66.70" cy="47.93" r="1.6"/><circle cx="67.26" cy="49.40" r="1.6"/><circle cx="67.85" cy="50.84" r="1.6"/><circle cx="68.49" cy="52.32" r="1.6"/><circle cx="69.11" cy="53.69" r="1.6"/><circle cx="69.74" cy="55.06" r="1.6"/><circle cx="70.44" cy="56.52" r="1.6"/><circle cx="71.14" cy="57.90" r="1.6"/><circle cx="71.89" cy="59.30" r="1.6"/><circle cx="72.66" cy="60.64" r="1.6"/><circle cx="73.46" cy="61.93" r="1.6"/><circle cx="74.32" cy="63.20" r="1.6"/><circle cx="75.21" cy="64.41" r="1.6"/><circle cx="76.18" cy="65.61" r="1.6"/><circle cx="77.18" cy="66.78" r="1.6"/><circle cx="78.26" cy="67.95" r="1.6"/><circle cx="79.32" cy="69.02" r="1.6"/><circle cx="80.41" cy="70.07" r="1.6"/><circle cx="81.58" cy="71.16" r="1.6"/><circle cx="82.73" cy="72.21" r="1.6"/><circle cx="83.91" cy="73.27" r="1.6"/><circle cx="85.09" cy="74.28" r="1.6"/><circle cx="86.29" cy="75.27" r="1.6"/><circle cx="87.53" cy="76.23" r="1.6"/><circle cx="88.77" cy="77.12" r="1.6"/><circle cx="90.04" cy="77.99" r="1.6"/><circle cx="91.34" cy="78.84" r="1.6"/><circle cx="92.70" cy="79.67" r="1.6"/><circle cx="94.04" cy="80.44" r="1.6"/><circle cx="95.36" cy="81.16" r="1.6"/><circle cx="96.77" cy="81.89" r="1.6"/><circle cx="98.15" cy="82.57" r="1.6"/><circle cx="99.59" cy="83.24" r="1.6"/><circle cx="100.97" cy="83.86" r="1.6"/><circle cx="102.38" cy="84.48" r="1.6"/><circle cx="103.83" cy="85.10" r="1.6"/><circle cx="105.32" cy="85.72" r="1.6"/><circle cx="106.82" cy="86.33" r="1.6"/><circle cx="108.29" cy="86.93" r="1.6"/><circle cx="109.76" cy="87.52" r="1.6"/><circle cx="111.28" cy="88.11" r="1.6"/><circle cx="112.73" cy="88.66" r="1.6"/><circle cx="114.28" cy="89.23" r="1.6"/><circle cx="115.79" cy="89.75" r="1.6"/><circle cx="117.23" cy="90.25" r="1.6"/><circle cx="118.80" cy="90.76" r="1.6"/><circle cx="120.29" cy="91.25" r="1.6"/><circle cx="121.86" cy="91.76" r="1.6"/><circle cx="123.51" cy="92.29" r="1.6"/><circle cx="124.98" cy="92.75" r="1.6"/><circle cx="126.47" cy="93.22" r="1.6"/><circle cx="127.99" cy="93.68" r="1.6"/><circle cx="129.53" cy="94.15" r="1.6"/><circle cx="131.07" cy="94.60" r="1.6"/><circle cx="132.60" cy="95.04" r="1.6"/><circle cx="134.12" cy="95.46" r="1.6"/><circle cx="135.61" cy="95.86" r="1.6"/><circle cx="137.06" cy="96.24" r="1.6"/><circle cx="138.76" cy="96.65" r="1.6"/><circle cx="140.28" cy="97.00" r="1.6"/><circle cx="141.84" cy="97.34" r="1.6"/><circle cx="143.42" cy="97.66" r="1.6"/><circle cx="145.00" cy="97.98" r="1.6"/><circle cx="146.57" cy="98.28" r="1.6"/><circle cx="148.12" cy="98.57" r="1.6"/><circle cx="149.61" cy="98.84" r="1.6"/><circle cx="151.26" cy="99.14" r="1.6"/><circle cx="152.80" cy="99.42" r="1.6"/><circle cx="154.37" cy="99.70" r="1.6"/><circle cx="155.86" cy="99.97" r="1.6"/><circle cx="157.33" cy="100.25" r="1.6"/><circle cx="158.85" cy="100.49" r="1.6"/></g>
<path d="M28.90,18.60 L28.95,18.60 L29.00,18.60 L29.05,18.60 L29.11,18.61 L29.17,18.61 L29.24,18.61 L29.30,18.62 L29.38,18.62 L29.45,18.63 L29.53,18.63 L29.61,18.64 L29.69,18.64 L29.77,18.65 L29.86,18.66 L29.95,18.66 L30.04,18.67 L30.13,18.67 L30.22,18.68 L30.32,18.68 L30.42,18.69 L30.52,18.69 L30.62,18.70 L30.72,18.70 L30.82,18.70 L30.93,18.70 L31.03,18.70 L31.14,18.70 L31.24,18.70 L31.35,18.70 L31.45,18.70 L31.56,18.69 L31.66,18.69 L31.77,18.68 L31.88,18.68 L31.98,18.67 L32.09,18.66 L32.19,18.64 L32.30,18.63 L32.40,18.62 L32.50,18.60 L32.60,18.58 L32.70,18.57 L32.81,18.55 L32.91,18.53 L33.02,18.51 L33.13,18.49 L33.23,18.48 L33.34,18.46 L33.45,18.44 L33.56,18.42 L33.67,18.40 L33.78,18.38 L33.90,18.36 L34.01,18.33 L34.12,18.31 L34.24,18.28 L34.35,18.26 L34.46,18.23 L34.58,18.20 L34.69,18.17 L34.81,18.14 L34.92,18.11 L35.04,18.08 L35.16,18.04 L35.27,18.01 L35.39,17.97 L35.51,17.93 L35.62,17.88 L35.74,17.84 L35.85,17.79 L35.97,17.75 L36.09,17.69 L36.20,17.64 L36.32,17.59 L36.43,17.53 L36.55,17.47 L36.66,17.40 L36.77,17.34 L36.89,17.27 L37.00,17.20 L37.11,17.12 L37.23,17.04 L37.34,16.96 L37.45,16.87 L37.57,16.78 L37.68,16.68 L37.80,16.58 L37.91,16.47 L38.03,16.36 L38.14,16.25 L38.26,16.14 L38.37,16.02 L38.49,15.90 L38.60,15.78 L38.72,15.66 L38.83,15.54 L38.95,15.41 L39.06,15.28 L39.18,15.16 L39.29,15.03 L39.41,14.90 L39.52,14.78 L39.64,14.65 L39.75,14.52 L39.86,14.40 L39.98,14.27" fill="none" stroke="#000" stroke-width="5.0" stroke-linecap="butt"/>
<path d="M40.09,14.15 L40.20,14.03 L40.31,13.91 L40.42,13.79 L40.53,13.68 L40.64,13.57 L40.75,13.46 L40.86,13.35 L40.97,13.25 L41.08,13.15 L41.18,13.06 L41.29,12.97 L41.40,12.88 L41.50,12.80 L41.60,12.72 L41.71,12.65 L41.81,12.57 L41.91,12.50 L42.01,12.42 L42.12,12.35 L42.22,12.28 L42.32,12.22 L42.42,12.15 L42.52,12.08 L42.62,12.02 L42.72,11.96 L42.82,11.90 L42.91,11.84 L43.01,11.78 L43.11,11.73 L43.21,11.67 L43.30,11.62 L43.40,11.57 L43.49,11.52 L43.59,11.47 L43.68,11.43 L43.78,11.38 L43.87,11.34 L43.96,11.30 L44.06,11.26 L44.15,11.22 L44.24,11.19 L44.33,11.15 L44.42,11.12 L44.51,11.09 L44.60,11.06 L44.69,11.03 L44.78,11.01 L44.87,10.99 L44.96,10.97" fill="none" stroke="#000" stroke-width="3.50" stroke-linecap="round"/>
<path d="M28.90,95.00 C29.80,94.58 32.35,93.75 34.30,92.50 C36.25,91.25 38.85,89.42 40.60,87.50 C42.35,85.58 43.40,83.25 44.80,81.00 C46.20,78.75 47.58,76.37 49.00,74.00 C50.42,71.63 51.88,68.88 53.30,66.80 C54.72,64.72 56.10,62.77 57.50,61.50 C58.90,60.23 60.62,59.62 61.70,59.20 C62.78,58.78 63.20,58.87 64.00,59.00 C64.80,59.13 65.50,59.17 66.50,60.00 C67.50,60.83 68.75,62.42 70.00,64.00 C71.25,65.58 72.67,67.67 74.00,69.50 C75.33,71.33 76.58,73.17 78.00,75.00 C79.42,76.83 80.73,78.67 82.50,80.50 C84.27,82.33 86.58,84.48 88.60,86.00 C90.62,87.52 93.60,89.00 94.60,89.60" fill="none" stroke="#008000" stroke-width="2.0" stroke-linejoin="round" stroke-linecap="round" />
<path d="M28.90,15.90 C30.25,15.88 34.90,15.70 37.00,15.80 C39.10,15.90 40.00,16.13 41.50,16.50 C43.00,16.87 44.48,17.25 46.00,18.00 C47.52,18.75 49.22,19.87 50.60,21.00 C51.98,22.13 53.18,23.42 54.30,24.80 C55.42,26.18 56.42,27.80 57.30,29.30 C58.18,30.80 58.85,32.30 59.60,33.80 C60.35,35.30 60.98,36.43 61.80,38.30 C62.62,40.17 63.47,42.47 64.50,45.00 C65.53,47.53 66.75,51.03 68.00,53.50 C69.25,55.97 70.58,57.72 72.00,59.80 C73.42,61.88 74.75,63.97 76.50,66.00 C78.25,68.03 80.48,70.17 82.50,72.00 C84.52,73.83 86.35,75.42 88.60,77.00 C90.85,78.58 94.77,80.75 96.00,81.50" fill="none" stroke="#008000" stroke-width="2.0" stroke-linejoin="round" stroke-linecap="round" />
<path d="M28.90,47.70 C30.55,47.70 35.33,47.40 38.80,47.70 C42.27,48.00 46.38,48.75 49.70,49.50 C53.02,50.25 55.98,51.15 58.70,52.20 C61.42,53.25 63.58,54.17 66.00,55.80 C68.42,57.43 70.80,59.88 73.20,62.00 C75.60,64.12 78.27,66.50 80.40,68.50 C82.53,70.50 83.90,72.00 86.00,74.00 C88.10,76.00 90.67,78.42 93.00,80.50 C95.33,82.58 97.50,84.55 100.00,86.50 C102.50,88.45 105.00,90.48 108.00,92.20 C111.00,93.92 114.67,95.57 118.00,96.80 C121.33,98.03 124.78,98.83 128.00,99.60 C131.22,100.37 133.97,100.87 137.30,101.40 C140.63,101.93 144.88,102.45 148.00,102.80 C151.12,103.15 154.00,103.33 156.00,103.50 C158.00,103.67 159.33,103.75 160.00,103.80" fill="none" stroke="#ff0000" stroke-width="1.1" stroke-linejoin="round" stroke-linecap="round" />
<path d="M28.90,101.00 C30.13,100.73 33.70,99.93 36.30,99.40 C38.90,98.87 41.75,98.48 44.50,97.80 C47.25,97.12 50.05,96.42 52.80,95.30 C55.55,94.18 58.80,92.48 61.00,91.10 C63.20,89.72 64.50,88.43 66.00,87.00 C67.50,85.57 68.50,83.92 70.00,82.50 C71.50,81.08 73.33,79.58 75.00,78.50 C76.67,77.42 78.33,76.58 80.00,76.00 C81.67,75.42 83.33,74.83 85.00,75.00 C86.67,75.17 88.00,76.00 90.00,77.00 C92.00,78.00 94.00,79.33 97.00,81.00 C100.00,82.67 104.50,85.25 108.00,87.00 C111.50,88.75 114.67,90.20 118.00,91.50 C121.33,92.80 124.78,93.82 128.00,94.80 C131.22,95.78 133.97,96.57 137.30,97.40 C140.63,98.23 144.88,99.17 148.00,99.80 C151.12,100.43 154.00,100.87 156.00,101.20 C158.00,101.53 159.33,101.70 160.00,101.80" fill="none" stroke="#ff0000" stroke-width="1.1" stroke-linejoin="round" stroke-linecap="round" />
<path d="M195.10,87.60 C200.12,87.60 219.55,87.43 225.20,87.60 C230.85,87.77 227.83,88.03 229.00,88.60 C230.17,89.17 231.17,90.07 232.20,91.00 C233.23,91.93 234.23,93.03 235.20,94.20 C236.17,95.37 237.12,96.70 238.00,98.00 C238.88,99.30 239.75,100.67 240.50,102.00 C241.25,103.33 241.83,104.72 242.50,106.00 C243.17,107.28 243.82,108.62 244.50,109.70 C245.18,110.78 245.93,111.92 246.60,112.50 C247.27,113.08 248.18,113.08 248.50,113.20" fill="none" stroke="#0000ff" stroke-width="1.1" stroke-dasharray="1.8 1.4" stroke-linejoin="round" stroke-linecap="round" />
<path d="M248.50,113.20 C249.08,113.08 250.37,112.90 252.00,112.50 C253.63,112.10 255.30,111.23 258.30,110.80 C261.30,110.37 265.55,110.10 270.00,109.90 C274.45,109.70 277.00,109.62 285.00,109.60 C293.00,109.58 312.50,109.77 318.00,109.80" fill="none" stroke="#0000ff" stroke-width="1.1" stroke-linejoin="round" stroke-linecap="round" />
<path d="M195.10,109.70 C197.08,109.55 203.13,109.20 207.00,108.80 C210.87,108.40 214.48,108.13 218.30,107.30 C222.12,106.47 227.28,104.93 229.90,103.80 C232.52,102.67 232.83,101.43 234.00,100.50 C235.17,99.57 236.07,98.72 236.90,98.20 C237.73,97.68 238.32,97.33 239.00,97.40 C239.68,97.47 240.25,97.87 241.00,98.60 C241.75,99.33 242.57,100.73 243.50,101.80 C244.43,102.87 245.18,104.20 246.60,105.00 C248.02,105.80 250.05,106.17 252.00,106.60 C253.95,107.03 255.30,107.27 258.30,107.60 C261.30,107.93 265.55,108.37 270.00,108.60 C274.45,108.83 277.00,108.83 285.00,109.00 C293.00,109.17 312.50,109.50 318.00,109.60" fill="none" stroke="#0000ff" stroke-width="1.1" stroke-linejoin="round" stroke-linecap="round" />
<path d="M195.10,38.70 C197.58,38.77 205.63,38.78 210.00,39.10 C214.37,39.42 218.17,39.98 221.30,40.60 C224.43,41.22 226.60,42.02 228.80,42.80 C231.00,43.58 232.73,44.35 234.50,45.30 C236.27,46.25 237.95,46.98 239.40,48.50 C240.85,50.02 241.95,52.32 243.20,54.40 C244.45,56.48 245.65,58.80 246.90,61.00 C248.15,63.20 249.45,65.57 250.70,67.60 C251.95,69.63 253.13,71.30 254.40,73.20 C255.67,75.10 256.87,77.03 258.30,79.00 C259.73,80.97 261.38,83.17 263.00,85.00 C264.62,86.83 266.00,88.33 268.00,90.00 C270.00,91.67 272.17,93.25 275.00,95.00 C277.83,96.75 281.17,98.83 285.00,100.50 C288.83,102.17 292.50,103.65 298.00,105.00 C303.50,106.35 314.67,108.00 318.00,108.60" fill="none" stroke="#ff0000" stroke-width="1.1" stroke-linejoin="round" stroke-linecap="round" />
<path d="M195.10,108.00 C197.42,107.50 205.13,106.08 209.00,105.00 C212.87,103.92 215.20,102.85 218.30,101.50 C221.40,100.15 224.90,98.45 227.60,96.90 C230.30,95.35 232.18,93.95 234.50,92.20 C236.82,90.45 239.75,87.95 241.50,86.40 C243.25,84.85 243.75,84.38 245.00,82.90 C246.25,81.42 247.63,79.12 249.00,77.50 C250.37,75.88 251.87,74.12 253.20,73.20 C254.53,72.28 255.53,71.62 257.00,72.00 C258.47,72.38 260.17,73.92 262.00,75.50 C263.83,77.08 265.83,79.67 268.00,81.50 C270.17,83.33 272.17,84.67 275.00,86.50 C277.83,88.33 281.17,90.33 285.00,92.50 C288.83,94.67 292.50,97.28 298.00,99.50 C303.50,101.72 314.67,104.75 318.00,105.80" fill="none" stroke="#ff0000" stroke-width="1.1" stroke-linejoin="round" stroke-linecap="round" />
<g fill="#fff" stroke="#000" stroke-width="1.15"><circle cx="195.10" cy="107.30" r="1.6"/><circle cx="196.71" cy="107.15" r="1.6"/><circle cx="198.24" cy="107.03" r="1.6"/><circle cx="199.82" cy="106.89" r="1.6"/><circle cx="201.32" cy="106.74" r="1.6"/><circle cx="202.82" cy="106.57" r="1.6"/><circle cx="204.42" cy="106.34" r="1.6"/><circle cx="206.00" cy="106.03" r="1.6"/><circle cx="207.55" cy="105.58" r="1.6"/><circle cx="208.96" cy="105.06" r="1.6"/><circle cx="210.36" cy="104.43" r="1.6"/><circle cx="211.76" cy="103.67" r="1.6"/><circle cx="213.09" cy="102.83" r="1.6"/><circle cx="214.39" cy="101.94" r="1.6"/><circle cx="215.63" cy="100.95" r="1.6"/><circle cx="216.74" cy="99.93" r="1.6"/><circle cx="217.86" cy="98.78" r="1.6"/><circle cx="218.91" cy="97.61" r="1.6"/><circle cx="219.89" cy="96.47" r="1.6"/><circle cx="220.85" cy="95.30" r="1.6"/><circle cx="221.75" cy="94.07" r="1.6"/><circle cx="222.62" cy="92.77" r="1.6"/><circle cx="223.42" cy="91.46" r="1.6"/><circle cx="224.18" cy="90.15" r="1.6"/><circle cx="224.90" cy="88.83" r="1.6"/><circle cx="225.58" cy="87.42" r="1.6"/><circle cx="226.23" cy="86.02" r="1.6"/><circle cx="226.89" cy="84.62" r="1.6"/><circle cx="227.56" cy="83.24" r="1.6"/><circle cx="228.21" cy="81.86" r="1.6"/><circle cx="228.88" cy="80.49" r="1.6"/><circle cx="229.61" cy="79.11" r="1.6"/><circle cx="230.38" cy="77.78" r="1.6"/><circle cx="231.15" cy="76.46" r="1.6"/><circle cx="231.97" cy="75.15" r="1.6"/><circle cx="232.84" cy="73.89" r="1.6"/><circle cx="233.80" cy="72.70" r="1.6"/><circle cx="234.91" cy="71.60" r="1.6"/><circle cx="236.11" cy="70.62" r="1.6"/><circle cx="237.38" cy="69.69" r="1.6"/><circle cx="238.64" cy="68.84" r="1.6"/><circle cx="239.93" cy="68.03" r="1.6"/><circle cx="241.26" cy="67.32" r="1.6"/><circle cx="242.64" cy="66.68" r="1.6"/><circle cx="244.04" cy="66.07" r="1.6"/><circle cx="245.54" cy="65.80" r="1.6"/><circle cx="247.05" cy="65.95" r="1.6"/><circle cx="248.54" cy="66.33" r="1.6"/><circle cx="249.91" cy="66.93" r="1.6"/><circle cx="251.17" cy="67.78" r="1.6"/><circle cx="252.41" cy="68.71" r="1.6"/><circle cx="253.60" cy="69.64" r="1.6"/><circle cx="254.79" cy="70.60" r="1.6"/><circle cx="255.97" cy="71.59" r="1.6"/><circle cx="257.10" cy="72.58" r="1.6"/><circle cx="258.27" cy="73.65" r="1.6"/><circle cx="259.42" cy="74.73" r="1.6"/><circle cx="260.51" cy="75.78" r="1.6"/><circle cx="261.60" cy="76.84" r="1.6"/><circle cx="262.74" cy="77.94" r="1.6"/><circle cx="263.87" cy="79.05" r="1.6"/><circle cx="264.99" cy="80.18" r="1.6"/><circle cx="266.10" cy="81.29" r="1.6"/><circle cx="267.22" cy="82.35" r="1.6"/><circle cx="268.41" cy="83.37" r="1.6"/><circle cx="269.65" cy="84.32" r="1.6"/><circle cx="270.89" cy="85.18" r="1.6"/><circle cx="272.22" cy="86.03" r="1.6"/><circle cx="273.51" cy="86.82" r="1.6"/><circle cx="274.85" cy="87.61" r="1.6"/><circle cx="276.25" cy="88.35" r="1.6"/><circle cx="277.58" cy="89.04" r="1.6"/><circle cx="278.92" cy="89.76" r="1.6"/><circle cx="280.23" cy="90.54" r="1.6"/><circle cx="281.51" cy="91.41" r="1.6"/><circle cx="282.79" cy="92.32" r="1.6"/><circle cx="284.06" cy="93.24" r="1.6"/><circle cx="285.33" cy="94.15" r="1.6"/><circle cx="286.60" cy="94.99" r="1.6"/><circle cx="287.88" cy="95.82" r="1.6"/><circle cx="289.15" cy="96.62" r="1.6"/><circle cx="290.50" cy="97.44" r="1.6"/><circle cx="291.85" cy="98.22" r="1.6"/><circle cx="293.20" cy="98.96" r="1.6"/><circle cx="294.55" cy="99.68" r="1.6"/><circle cx="295.90" cy="100.35" r="1.6"/><circle cx="297.32" cy="101.01" r="1.6"/><circle cx="298.75" cy="101.60" r="1.6"/><circle cx="300.17" cy="102.11" r="1.6"/><circle cx="301.68" cy="102.59" r="1.6"/><circle cx="303.18" cy="103.05" r="1.6"/><circle cx="304.66" cy="103.50" r="1.6"/><circle cx="306.16" cy="103.95" r="1.6"/><circle cx="307.68" cy="104.38" r="1.6"/><circle cx="309.15" cy="104.78" r="1.6"/><circle cx="310.66" cy="105.17" r="1.6"/><circle cx="312.16" cy="105.53" r="1.6"/><circle cx="313.67" cy="105.89" r="1.6"/><circle cx="315.17" cy="106.24" r="1.6"/><circle cx="316.70" cy="106.60" r="1.6"/></g>
<g fill="#fff" stroke="#000" stroke-width="1.15"><circle cx="195.10" cy="17.80" r="1.6"/><circle cx="196.65" cy="17.83" r="1.6"/><circle cx="198.23" cy="17.87" r="1.6"/><circle cx="199.74" cy="17.89" r="1.6"/><circle cx="201.31" cy="17.87" r="1.6"/><circle cx="202.82" cy="17.77" r="1.6"/><circle cx="204.34" cy="17.58" r="1.6"/><circle cx="205.87" cy="17.30" r="1.6"/><circle cx="207.37" cy="16.89" r="1.6"/><circle cx="208.84" cy="16.33" r="1.6"/><circle cx="210.20" cy="15.62" r="1.6"/><circle cx="211.56" cy="14.81" r="1.6"/><circle cx="212.87" cy="14.05" r="1.6"/><circle cx="214.24" cy="13.41" r="1.6"/><circle cx="215.69" cy="12.82" r="1.6"/><circle cx="217.18" cy="12.37" r="1.6"/><circle cx="218.68" cy="12.20" r="1.6"/><circle cx="220.18" cy="12.31" r="1.6"/><circle cx="221.68" cy="12.67" r="1.6"/><circle cx="223.09" cy="13.33" r="1.6"/><circle cx="224.31" cy="14.29" r="1.6"/><circle cx="225.35" cy="15.41" r="1.6"/><circle cx="226.31" cy="16.65" r="1.6"/><circle cx="227.23" cy="17.93" r="1.6"/><circle cx="228.07" cy="19.17" r="1.6"/><circle cx="228.90" cy="20.52" r="1.6"/><circle cx="229.68" cy="21.87" r="1.6"/><circle cx="230.42" cy="23.19" r="1.6"/><circle cx="231.17" cy="24.56" r="1.6"/><circle cx="231.88" cy="25.91" r="1.6"/><circle cx="232.60" cy="27.30" r="1.6"/><circle cx="233.32" cy="28.74" r="1.6"/><circle cx="233.98" cy="30.11" r="1.6"/><circle cx="234.64" cy="31.50" r="1.6"/><circle cx="235.29" cy="32.94" r="1.6"/><circle cx="235.89" cy="34.32" r="1.6"/><circle cx="236.49" cy="35.72" r="1.6"/><circle cx="237.09" cy="37.13" r="1.6"/><circle cx="237.69" cy="38.53" r="1.6"/><circle cx="238.29" cy="39.91" r="1.6"/><circle cx="238.91" cy="41.29" r="1.6"/><circle cx="239.55" cy="42.67" r="1.6"/><circle cx="240.18" cy="44.04" r="1.6"/><circle cx="240.81" cy="45.41" r="1.6"/><circle cx="241.46" cy="46.87" r="1.6"/><circle cx="242.09" cy="48.30" r="1.6"/><circle cx="242.68" cy="49.73" r="1.6"/><circle cx="243.24" cy="51.14" r="1.6"/><circle cx="243.83" cy="52.63" r="1.6"/><circle cx="244.41" cy="54.10" r="1.6"/><circle cx="245.00" cy="55.53" r="1.6"/><circle cx="245.61" cy="56.92" r="1.6"/><circle cx="246.26" cy="58.33" r="1.6"/><circle cx="246.91" cy="59.71" r="1.6"/><circle cx="247.58" cy="61.08" r="1.6"/><circle cx="248.25" cy="62.47" r="1.6"/><circle cx="248.93" cy="63.91" r="1.6"/><circle cx="249.58" cy="65.30" r="1.6"/><circle cx="250.24" cy="66.70" r="1.6"/><circle cx="250.90" cy="68.09" r="1.6"/><circle cx="251.56" cy="69.44" r="1.6"/><circle cx="252.26" cy="70.80" r="1.6"/><circle cx="253.01" cy="72.18" r="1.6"/><circle cx="253.75" cy="73.50" r="1.6"/><circle cx="254.54" cy="74.86" r="1.6"/><circle cx="255.32" cy="76.20" r="1.6"/><circle cx="256.10" cy="77.53" r="1.6"/><circle cx="256.89" cy="78.89" r="1.6"/><circle cx="257.70" cy="80.23" r="1.6"/><circle cx="258.51" cy="81.50" r="1.6"/><circle cx="259.41" cy="82.77" r="1.6"/><circle cx="260.33" cy="83.99" r="1.6"/><circle cx="261.29" cy="85.21" r="1.6"/><circle cx="262.28" cy="86.40" r="1.6"/><circle cx="263.27" cy="87.54" r="1.6"/><circle cx="264.30" cy="88.66" r="1.6"/><circle cx="265.38" cy="89.76" r="1.6"/><circle cx="266.48" cy="90.82" r="1.6"/><circle cx="267.63" cy="91.88" r="1.6"/><circle cx="268.79" cy="92.93" r="1.6"/><circle cx="269.93" cy="93.94" r="1.6"/><circle cx="271.12" cy="94.95" r="1.6"/><circle cx="272.34" cy="95.96" r="1.6"/><circle cx="273.58" cy="96.93" r="1.6"/><circle cx="274.85" cy="97.87" r="1.6"/><circle cx="276.09" cy="98.75" r="1.6"/><circle cx="277.35" cy="99.60" r="1.6"/><circle cx="278.61" cy="100.42" r="1.6"/><circle cx="279.92" cy="101.25" r="1.6"/><circle cx="281.21" cy="102.05" r="1.6"/><circle cx="282.56" cy="102.86" r="1.6"/><circle cx="283.91" cy="103.63" r="1.6"/><circle cx="285.25" cy="104.34" r="1.6"/><circle cx="286.67" cy="105.00" r="1.6"/><circle cx="288.10" cy="105.59" r="1.6"/><circle cx="289.52" cy="106.10" r="1.6"/><circle cx="290.95" cy="106.57" r="1.6"/><circle cx="292.45" cy="107.04" r="1.6"/><circle cx="293.95" cy="107.45" r="1.6"/><circle cx="295.45" cy="107.82" r="1.6"/><circle cx="296.95" cy="108.16" r="1.6"/><circle cx="298.45" cy="108.50" r="1.6"/><circle cx="299.95" cy="108.82" r="1.6"/><circle cx="301.45" cy="109.12" r="1.6"/><circle cx="302.95" cy="109.41" r="1.6"/><circle cx="304.44" cy="109.68" r="1.6"/><circle cx="305.95" cy="109.95" r="1.6"/><circle cx="307.46" cy="110.21" r="1.6"/><circle cx="308.99" cy="110.45" r="1.6"/><circle cx="310.56" cy="110.68" r="1.6"/><circle cx="312.05" cy="110.87" r="1.6"/><circle cx="313.56" cy="111.06" r="1.6"/><circle cx="315.06" cy="111.25" r="1.6"/><circle cx="316.61" cy="111.43" r="1.6"/></g>
<path d="M195.10,17.80 L195.20,17.80 L195.31,17.80 L195.42,17.80 L195.55,17.81 L195.68,17.81 L195.83,17.81 L195.98,17.82 L196.13,17.82 L196.30,17.82 L196.47,17.83 L196.65,17.83 L196.83,17.84 L197.02,17.84 L197.21,17.85 L197.41,17.85 L197.61,17.86 L197.81,17.86 L198.02,17.87 L198.23,17.87 L198.44,17.88 L198.66,17.88 L198.87,17.88 L199.09,17.88 L199.31,17.89 L199.52,17.89 L199.74,17.89 L199.96,17.89 L200.17,17.89 L200.39,17.89 L200.60,17.88 L200.80,17.88 L201.01,17.88 L201.21,17.87 L201.41,17.87 L201.61,17.86 L201.80,17.85 L201.98,17.84 L202.16,17.83 L202.33,17.81 L202.50,17.80 L202.66,17.78 L202.82,17.77 L202.98,17.75 L203.14,17.74 L203.29,17.72 L203.45,17.70 L203.60,17.68 L203.75,17.67 L203.90,17.65 L204.05,17.63 L204.19,17.61 L204.34,17.58 L204.48,17.56 L204.62,17.54 L204.77,17.52 L204.91,17.49 L205.05,17.47 L205.19,17.44 L205.32,17.42 L205.46,17.39 L205.60,17.36 L205.74,17.33 L205.87,17.30 L206.01,17.27 L206.14,17.23 L206.28,17.20 L206.42,17.17 L206.55,17.13 L206.69,17.09 L206.82,17.05 L206.96,17.02 L207.09,16.97 L207.23,16.93 L207.37,16.89 L207.50,16.84 L207.64,16.80 L207.78,16.75 L207.92,16.70" fill="none" stroke="#000" stroke-width="5.4" stroke-linecap="butt"/>
<path d="M208.06,16.65 L208.20,16.60 L208.34,16.55 L208.48,16.49 L208.63,16.43 L208.77,16.37 L208.91,16.30 L209.05,16.23 L209.20,16.16 L209.34,16.09 L209.48,16.02 L209.63,15.94 L209.77,15.86 L209.92,15.78 L210.06,15.70 L210.20,15.62 L210.35,15.54 L210.49,15.45 L210.63,15.37 L210.78,15.28 L210.92,15.20 L211.06,15.11 L211.20,15.03 L211.35,14.94 L211.49,14.86 L211.63,14.77 L211.77,14.69 L211.91,14.60 L212.05,14.52 L212.19,14.44 L212.33,14.36 L212.47,14.28 L212.60,14.20 L212.74,14.13 L212.87,14.05" fill="none" stroke="#000" stroke-width="3.78" stroke-linecap="round"/>
<path d="M195.10,104.50 C197.00,104.08 203.62,103.07 206.50,102.00 C209.38,100.93 210.45,99.73 212.40,98.10 C214.35,96.47 216.58,94.00 218.20,92.20 C219.82,90.40 220.80,89.08 222.10,87.30 C223.40,85.52 224.70,83.45 226.00,81.50 C227.30,79.55 228.60,77.40 229.90,75.60 C231.20,73.80 232.50,72.00 233.80,70.70 C235.10,69.40 236.30,68.60 237.70,67.80 C239.10,67.00 240.97,66.28 242.19,65.90 C243.41,65.52 243.87,65.45 245.00,65.50 C246.13,65.55 247.83,65.75 249.00,66.20 C250.17,66.65 250.68,67.17 252.00,68.20 C253.32,69.23 255.13,70.80 256.90,72.40 C258.67,74.00 260.72,76.00 262.60,77.80 C264.48,79.60 266.33,81.67 268.20,83.20 C270.07,84.73 271.83,85.80 273.80,87.00 C275.77,88.20 277.97,89.13 280.00,90.40 C282.03,91.67 284.00,93.28 286.00,94.60 C288.00,95.92 290.00,97.18 292.00,98.30 C294.00,99.42 296.00,100.47 298.00,101.30 C300.00,102.13 302.00,102.68 304.00,103.30 C306.00,103.92 307.67,104.40 310.00,105.00 C312.33,105.60 316.67,106.58 318.00,106.90" fill="none" stroke="#008000" stroke-width="2.0" stroke-linejoin="round" stroke-linecap="round" />
<path d="M195.10,17.00 C196.97,17.00 203.18,16.93 206.30,17.00 C209.42,17.07 211.30,17.10 213.80,17.40 C216.30,17.70 219.10,18.17 221.30,18.80 C223.50,19.43 225.43,20.20 227.00,21.20 C228.57,22.20 229.45,23.13 230.70,24.80 C231.95,26.47 233.25,28.72 234.50,31.20 C235.75,33.68 236.95,36.88 238.20,39.70 C239.45,42.52 240.83,45.38 242.00,48.10 C243.17,50.82 244.12,53.52 245.20,56.00 C246.28,58.48 247.37,60.62 248.50,63.00 C249.63,65.38 250.83,68.05 252.00,70.30 C253.17,72.55 254.33,74.52 255.50,76.50 C256.67,78.48 257.67,80.32 259.00,82.20 C260.33,84.08 261.97,86.10 263.50,87.80 C265.03,89.50 266.48,90.85 268.20,92.40 C269.92,93.95 271.83,95.62 273.80,97.10 C275.77,98.58 277.97,100.07 280.00,101.30 C282.03,102.53 284.00,103.63 286.00,104.50 C288.00,105.37 290.00,105.97 292.00,106.50 C294.00,107.03 296.00,107.37 298.00,107.70 C300.00,108.03 302.00,108.28 304.00,108.50 C306.00,108.72 307.67,108.87 310.00,109.00 C312.33,109.13 316.67,109.25 318.00,109.30" fill="none" stroke="#008000" stroke-width="2.0" stroke-linejoin="round" stroke-linecap="round" />
<path d="M29.70,224.50 C36.42,224.50 60.98,224.50 70.00,224.50 C79.02,224.50 81.05,224.60 83.80,224.50 C86.55,224.40 85.67,223.92 86.50,223.90 C87.33,223.88 87.92,223.82 88.80,224.40 C89.68,224.98 90.92,226.13 91.80,227.40 C92.68,228.67 93.33,230.47 94.10,232.00 C94.87,233.53 95.63,235.27 96.40,236.60 C97.17,237.93 97.93,239.18 98.70,240.00 C99.47,240.82 100.23,241.18 101.00,241.50 C101.77,241.82 101.80,241.93 103.30,241.90 C104.80,241.87 106.38,241.47 110.00,241.30 C113.62,241.13 117.00,240.98 125.00,240.90 C133.00,240.82 152.50,240.82 158.00,240.80" fill="none" stroke="#0000ff" stroke-width="1.1" stroke-linejoin="round" stroke-linecap="round" />
<path d="M29.70,241.90 C33.42,241.58 46.38,240.68 52.00,240.00 C57.62,239.32 60.40,238.63 63.40,237.80 C66.40,236.97 68.08,236.05 70.00,235.00 C71.92,233.95 73.32,232.75 74.90,231.50 C76.48,230.25 78.15,228.53 79.50,227.50 C80.85,226.47 81.92,225.82 83.00,225.30 C84.08,224.78 85.08,224.40 86.00,224.40 C86.92,224.40 87.73,224.80 88.50,225.30 C89.27,225.80 89.48,226.08 90.60,227.40 C91.72,228.72 93.67,231.47 95.20,233.20 C96.73,234.93 98.33,236.75 99.80,237.80 C101.27,238.85 102.30,239.13 104.00,239.50 C105.70,239.87 106.50,239.83 110.00,240.00 C113.50,240.17 117.00,240.38 125.00,240.50 C133.00,240.62 152.50,240.67 158.00,240.70" fill="none" stroke="#0000ff" stroke-width="1.1" stroke-linejoin="round" stroke-linecap="round" />
<path d="M97.50,198.60 C98.00,198.93 99.55,199.50 100.50,200.60 C101.45,201.70 102.25,203.57 103.20,205.20 C104.15,206.83 105.32,208.83 106.20,210.40 C107.08,211.97 107.67,212.90 108.50,214.60 C109.33,216.30 109.90,218.60 111.20,220.60 C112.50,222.60 114.35,224.80 116.30,226.60 C118.25,228.40 120.68,230.07 122.90,231.40 C125.12,232.73 126.75,233.62 129.60,234.60 C132.45,235.58 136.60,236.67 140.00,237.30 C143.40,237.93 147.00,238.13 150.00,238.40 C153.00,238.67 156.67,238.82 158.00,238.90" fill="none" stroke="#008000" stroke-width="2.0" stroke-linejoin="round" stroke-linecap="round" />
<path d="M96.50,191.00 C97.25,191.97 99.40,195.00 101.00,196.80 C102.60,198.60 104.12,200.00 106.10,201.80 C108.08,203.60 110.87,205.85 112.90,207.60 C114.93,209.35 116.90,211.08 118.30,212.30 C119.70,213.52 119.70,213.50 121.30,214.90 C122.90,216.30 125.70,219.05 127.90,220.70 C130.10,222.35 132.48,223.70 134.50,224.80 C136.52,225.90 138.10,226.50 140.00,227.30 C141.90,228.10 143.90,228.88 145.90,229.60 C147.90,230.32 149.98,231.02 152.00,231.60 C154.02,232.18 157.00,232.85 158.00,233.10" fill="none" stroke="#008000" stroke-width="2.0" stroke-linejoin="round" stroke-linecap="round" />
<g fill="#fff" stroke="#000" stroke-width="1.15"><circle cx="29.70" cy="240.00" r="1.6"/><circle cx="31.26" cy="239.91" r="1.6"/><circle cx="32.79" cy="239.82" r="1.6"/><circle cx="34.37" cy="239.74" r="1.6"/><circle cx="35.87" cy="239.65" r="1.6"/><circle cx="37.40" cy="239.56" r="1.6"/><circle cx="38.93" cy="239.45" r="1.6"/><circle cx="40.57" cy="239.32" r="1.6"/><circle cx="42.22" cy="239.17" r="1.6"/><circle cx="43.75" cy="238.98" r="1.6"/><circle cx="45.26" cy="238.76" r="1.6"/><circle cx="46.77" cy="238.50" r="1.6"/><circle cx="48.30" cy="238.20" r="1.6"/><circle cx="49.80" cy="237.86" r="1.6"/><circle cx="51.32" cy="237.48" r="1.6"/><circle cx="52.81" cy="237.09" r="1.6"/><circle cx="54.33" cy="236.67" r="1.6"/><circle cx="55.87" cy="236.23" r="1.6"/><circle cx="57.39" cy="235.75" r="1.6"/><circle cx="58.87" cy="235.23" r="1.6"/><circle cx="60.28" cy="234.67" r="1.6"/><circle cx="61.69" cy="234.01" r="1.6"/><circle cx="63.01" cy="233.29" r="1.6"/><circle cx="64.34" cy="232.46" r="1.6"/><circle cx="65.60" cy="231.58" r="1.6"/><circle cx="66.81" cy="230.65" r="1.6"/><circle cx="68.00" cy="229.70" r="1.6"/><circle cx="69.15" cy="228.73" r="1.6"/><circle cx="70.31" cy="227.65" r="1.6"/><circle cx="71.44" cy="226.53" r="1.6"/><circle cx="72.47" cy="225.43" r="1.6"/><circle cx="73.49" cy="224.25" r="1.6"/><circle cx="74.45" cy="223.06" r="1.6"/><circle cx="75.40" cy="221.79" r="1.6"/><circle cx="76.27" cy="220.56" r="1.6"/><circle cx="77.13" cy="219.29" r="1.6"/><circle cx="77.98" cy="218.03" r="1.6"/><circle cx="78.87" cy="216.69" r="1.6"/><circle cx="79.75" cy="215.37" r="1.6"/><circle cx="80.61" cy="214.03" r="1.6"/><circle cx="81.45" cy="212.69" r="1.6"/><circle cx="82.28" cy="211.36" r="1.6"/><circle cx="83.10" cy="210.07" r="1.6"/><circle cx="83.97" cy="208.74" r="1.6"/><circle cx="84.83" cy="207.41" r="1.6"/><circle cx="85.67" cy="206.10" r="1.6"/><circle cx="86.51" cy="204.84" r="1.6"/><circle cx="87.40" cy="203.59" r="1.6"/><circle cx="88.36" cy="202.44" r="1.6"/><circle cx="89.44" cy="201.33" r="1.6"/><circle cx="90.59" cy="200.33" r="1.6"/><circle cx="91.86" cy="199.48" r="1.6"/><circle cx="93.25" cy="198.89" r="1.6"/><circle cx="94.76" cy="198.73" r="1.6"/><circle cx="96.29" cy="198.92" r="1.6"/><circle cx="97.78" cy="199.28" r="1.6"/><circle cx="99.19" cy="199.87" r="1.6"/><circle cx="100.36" cy="200.84" r="1.6"/><circle cx="101.26" cy="202.05" r="1.6"/><circle cx="102.01" cy="203.40" r="1.6"/><circle cx="102.71" cy="204.72" r="1.6"/><circle cx="103.45" cy="206.04" r="1.6"/><circle cx="104.22" cy="207.35" r="1.6"/><circle cx="105.00" cy="208.70" r="1.6"/><circle cx="105.75" cy="210.01" r="1.6"/><circle cx="106.52" cy="211.36" r="1.6"/><circle cx="107.29" cy="212.71" r="1.6"/><circle cx="108.03" cy="214.06" r="1.6"/><circle cx="108.71" cy="215.46" r="1.6"/><circle cx="109.29" cy="216.90" r="1.6"/><circle cx="109.86" cy="218.36" r="1.6"/><circle cx="110.50" cy="219.78" r="1.6"/><circle cx="111.30" cy="221.15" r="1.6"/><circle cx="112.21" cy="222.43" r="1.6"/><circle cx="113.18" cy="223.65" r="1.6"/><circle cx="114.24" cy="224.85" r="1.6"/><circle cx="115.29" cy="225.94" r="1.6"/><circle cx="116.45" cy="227.03" r="1.6"/><circle cx="117.60" cy="228.00" r="1.6"/><circle cx="118.83" cy="228.94" r="1.6"/><circle cx="120.10" cy="229.83" r="1.6"/><circle cx="121.38" cy="230.67" r="1.6"/><circle cx="122.73" cy="231.50" r="1.6"/><circle cx="124.10" cy="232.30" r="1.6"/><circle cx="125.47" cy="233.05" r="1.6"/><circle cx="126.89" cy="233.74" r="1.6"/><circle cx="128.30" cy="234.33" r="1.6"/><circle cx="129.82" cy="234.87" r="1.6"/><circle cx="131.33" cy="235.36" r="1.6"/><circle cx="132.85" cy="235.81" r="1.6"/><circle cx="134.32" cy="236.22" r="1.6"/><circle cx="135.83" cy="236.60" r="1.6"/><circle cx="137.34" cy="236.96" r="1.6"/><circle cx="138.83" cy="237.27" r="1.6"/><circle cx="140.38" cy="237.57" r="1.6"/><circle cx="141.93" cy="237.80" r="1.6"/><circle cx="143.48" cy="237.98" r="1.6"/><circle cx="145.02" cy="238.13" r="1.6"/><circle cx="146.54" cy="238.25" r="1.6"/><circle cx="148.13" cy="238.36" r="1.6"/><circle cx="149.66" cy="238.47" r="1.6"/><circle cx="151.27" cy="238.60" r="1.6"/><circle cx="152.80" cy="238.70" r="1.6"/><circle cx="154.40" cy="238.80" r="1.6"/><circle cx="155.97" cy="238.89" r="1.6"/><circle cx="157.53" cy="238.97" r="1.6"/></g>
<g fill="#fff" stroke="#000" stroke-width="1.15"><circle cx="29.70" cy="155.00" r="1.6"/><circle cx="31.25" cy="155.01" r="1.6"/><circle cx="32.78" cy="155.02" r="1.6"/><circle cx="34.36" cy="155.03" r="1.6"/><circle cx="35.87" cy="155.04" r="1.6"/><circle cx="37.50" cy="155.03" r="1.6"/><circle cx="39.02" cy="155.02" r="1.6"/><circle cx="40.56" cy="154.99" r="1.6"/><circle cx="42.07" cy="154.95" r="1.6"/><circle cx="43.60" cy="154.91" r="1.6"/><circle cx="45.15" cy="154.83" r="1.6"/><circle cx="46.69" cy="154.68" r="1.6"/><circle cx="48.21" cy="154.41" r="1.6"/><circle cx="49.71" cy="153.97" r="1.6"/><circle cx="51.13" cy="153.38" r="1.6"/><circle cx="52.51" cy="152.76" r="1.6"/><circle cx="53.96" cy="152.18" r="1.6"/><circle cx="55.39" cy="151.57" r="1.6"/><circle cx="56.82" cy="150.97" r="1.6"/><circle cx="58.27" cy="150.42" r="1.6"/><circle cx="59.76" cy="150.01" r="1.6"/><circle cx="61.28" cy="149.71" r="1.6"/><circle cx="62.80" cy="149.58" r="1.6"/><circle cx="64.33" cy="149.64" r="1.6"/><circle cx="65.81" cy="149.88" r="1.6"/><circle cx="67.26" cy="150.30" r="1.6"/><circle cx="68.69" cy="150.89" r="1.6"/><circle cx="70.07" cy="151.56" r="1.6"/><circle cx="71.45" cy="152.32" r="1.6"/><circle cx="72.74" cy="153.16" r="1.6"/><circle cx="73.97" cy="154.09" r="1.6"/><circle cx="75.10" cy="155.12" r="1.6"/><circle cx="76.16" cy="156.25" r="1.6"/><circle cx="77.13" cy="157.41" r="1.6"/><circle cx="78.10" cy="158.66" r="1.6"/><circle cx="79.04" cy="159.92" r="1.6"/><circle cx="79.94" cy="161.22" r="1.6"/><circle cx="80.78" cy="162.51" r="1.6"/><circle cx="81.63" cy="163.84" r="1.6"/><circle cx="82.45" cy="165.19" r="1.6"/><circle cx="83.23" cy="166.53" r="1.6"/><circle cx="83.97" cy="167.85" r="1.6"/><circle cx="84.68" cy="169.19" r="1.6"/><circle cx="85.36" cy="170.55" r="1.6"/><circle cx="86.06" cy="171.98" r="1.6"/><circle cx="86.74" cy="173.37" r="1.6"/><circle cx="87.43" cy="174.75" r="1.6"/><circle cx="88.11" cy="176.12" r="1.6"/><circle cx="88.79" cy="177.51" r="1.6"/><circle cx="89.46" cy="178.86" r="1.6"/><circle cx="90.16" cy="180.23" r="1.6"/><circle cx="90.89" cy="181.66" r="1.6"/><circle cx="91.60" cy="183.04" r="1.6"/><circle cx="92.28" cy="184.38" r="1.6"/><circle cx="92.99" cy="185.74" r="1.6"/><circle cx="93.70" cy="187.07" r="1.6"/><circle cx="94.46" cy="188.42" r="1.6"/><circle cx="95.24" cy="189.72" r="1.6"/><circle cx="96.08" cy="191.07" r="1.6"/><circle cx="96.91" cy="192.32" r="1.6"/><circle cx="97.84" cy="193.61" r="1.6"/><circle cx="98.82" cy="194.84" r="1.6"/><circle cx="99.81" cy="195.97" r="1.6"/><circle cx="100.92" cy="197.14" r="1.6"/><circle cx="102.03" cy="198.23" r="1.6"/><circle cx="103.18" cy="199.32" r="1.6"/><circle cx="104.35" cy="200.40" r="1.6"/><circle cx="105.50" cy="201.45" r="1.6"/><circle cx="106.61" cy="202.46" r="1.6"/><circle cx="107.75" cy="203.46" r="1.6"/><circle cx="108.89" cy="204.43" r="1.6"/><circle cx="110.11" cy="205.45" r="1.6"/><circle cx="111.30" cy="206.45" r="1.6"/><circle cx="112.51" cy="207.47" r="1.6"/><circle cx="113.66" cy="208.45" r="1.6"/><circle cx="114.84" cy="209.48" r="1.6"/><circle cx="115.98" cy="210.47" r="1.6"/><circle cx="117.15" cy="211.50" r="1.6"/><circle cx="118.30" cy="212.50" r="1.6"/><circle cx="119.44" cy="213.49" r="1.6"/><circle cx="120.59" cy="214.48" r="1.6"/><circle cx="121.75" cy="215.50" r="1.6"/><circle cx="122.85" cy="216.51" r="1.6"/><circle cx="124.02" cy="217.59" r="1.6"/><circle cx="125.18" cy="218.63" r="1.6"/><circle cx="126.34" cy="219.65" r="1.6"/><circle cx="127.57" cy="220.64" r="1.6"/><circle cx="128.82" cy="221.56" r="1.6"/><circle cx="130.08" cy="222.42" r="1.6"/><circle cx="131.44" cy="223.26" r="1.6"/><circle cx="132.76" cy="224.03" r="1.6"/><circle cx="134.12" cy="224.79" r="1.6"/><circle cx="135.45" cy="225.50" r="1.6"/><circle cx="136.83" cy="226.16" r="1.6"/><circle cx="138.22" cy="226.76" r="1.6"/><circle cx="139.65" cy="227.35" r="1.6"/><circle cx="141.08" cy="227.95" r="1.6"/><circle cx="142.54" cy="228.54" r="1.6"/><circle cx="143.95" cy="229.08" r="1.6"/><circle cx="145.38" cy="229.61" r="1.6"/><circle cx="146.81" cy="230.12" r="1.6"/><circle cx="148.25" cy="230.62" r="1.6"/><circle cx="149.71" cy="231.10" r="1.6"/><circle cx="151.16" cy="231.55" r="1.6"/><circle cx="152.63" cy="231.98" r="1.6"/><circle cx="154.08" cy="232.36" r="1.6"/><circle cx="155.55" cy="232.72" r="1.6"/><circle cx="157.06" cy="233.07" r="1.6"/></g>
<path d="M29.70,155.00 L29.84,155.00 L29.99,155.00 L30.15,155.00 L30.32,155.00 L30.51,155.00 L30.71,155.00 L30.92,155.01 L31.14,155.01 L31.37,155.01 L31.61,155.01 L31.86,155.01 L32.11,155.02 L32.37,155.02 L32.64,155.02 L32.92,155.02 L33.20,155.02 L33.48,155.03 L33.77,155.03 L34.07,155.03 L34.36,155.03 L34.66,155.03 L34.96,155.03 L35.26,155.04 L35.57,155.04 L35.87,155.04 L36.17,155.04 L36.47,155.04 L36.77,155.04 L37.07,155.04 L37.36,155.04 L37.65,155.03 L37.94,155.03 L38.22,155.03 L38.49,155.03 L38.76,155.02 L39.02,155.02 L39.28,155.02 L39.53,155.01 L39.77,155.01 L40.00,155.00 L40.23,154.99 L40.45,154.99 L40.67,154.98 L40.89,154.98 L41.11,154.97 L41.33,154.97 L41.54,154.96 L41.76,154.96 L41.97,154.95 L42.18,154.95 L42.39,154.94 L42.59,154.94 L42.80,154.93 L43.00,154.93 L43.20,154.92 L43.41,154.91 L43.60,154.91 L43.80,154.90 L44.00,154.89 L44.19,154.88 L44.39,154.87 L44.58,154.86 L44.77,154.85 L44.96,154.84 L45.15,154.83 L45.33,154.81 L45.52,154.80 L45.70,154.78 L45.88,154.77 L46.06,154.75 L46.24,154.73 L46.42,154.71 L46.60,154.69 L46.77,154.67 L46.95,154.64 L47.12,154.62 L47.29,154.59 L47.46,154.56 L47.63,154.53 L47.80,154.50 L47.97,154.47 L48.13,154.43 L48.29,154.39 L48.45,154.36 L48.61,154.31 L48.76,154.27 L48.91,154.23 L49.06,154.18 L49.21,154.14 L49.35,154.09 L49.50,154.04 L49.64,153.99 L49.78,153.94 L49.92,153.89 L50.06,153.83 L50.20,153.78 L50.33,153.73 L50.47,153.67 L50.60,153.61 L50.74,153.56 L50.87,153.50 L51.00,153.44 L51.13,153.38 L51.27,153.32 L51.40,153.27 L51.53,153.21 L51.66,153.15 L51.79,153.09 L51.92,153.03" fill="none" stroke="#000" stroke-width="6.0" stroke-linecap="butt"/>
<path d="M52.05,152.97 L52.18,152.91 L52.32,152.85 L52.45,152.79 L52.58,152.74 L52.72,152.68 L52.85,152.62 L52.99,152.56 L53.12,152.51 L53.26,152.45 L53.40,152.40 L53.54,152.35 L53.68,152.29 L53.82,152.23 L53.96,152.18 L54.11,152.12 L54.25,152.06 L54.39,152.00 L54.53,151.94 L54.68,151.88 L54.82,151.82 L54.96,151.76 L55.11,151.70 L55.25,151.64 L55.39,151.57 L55.54,151.51 L55.68,151.45 L55.82,151.39 L55.96,151.33 L56.11,151.27 L56.25,151.21 L56.39,151.15 L56.53,151.09 L56.68,151.03 L56.82,150.97 L56.96,150.91" fill="none" stroke="#000" stroke-width="4.20" stroke-linecap="round"/>
<path d="M29.70,238.20 C31.50,238.13 36.78,238.25 40.50,237.80 C44.22,237.35 48.57,236.47 52.00,235.50 C55.43,234.53 58.43,233.35 61.10,232.00 C63.77,230.65 65.90,229.12 68.00,227.40 C70.10,225.68 71.83,224.02 73.70,221.70 C75.57,219.38 77.52,216.20 79.20,213.50 C80.88,210.80 82.28,207.83 83.80,205.50 C85.32,203.17 86.78,200.82 88.30,199.50 C89.82,198.18 91.37,197.75 92.90,197.60 C94.43,197.45 96.23,198.10 97.50,198.60 C98.77,199.10 100.00,200.27 100.50,200.60" fill="none" stroke="#008000" stroke-width="2.0" stroke-linejoin="round" stroke-linecap="round" />
<path d="M29.70,151.50 C32.72,151.50 43.22,151.58 47.80,151.50 C52.38,151.42 54.38,151.22 57.20,151.00 C60.02,150.78 62.50,150.05 64.70,150.20 C66.90,150.35 68.52,150.98 70.40,151.90 C72.28,152.82 74.28,154.13 76.00,155.70 C77.72,157.27 79.13,158.95 80.70,161.30 C82.27,163.65 84.02,167.13 85.40,169.80 C86.78,172.47 87.82,174.85 89.00,177.30 C90.18,179.75 91.25,182.22 92.50,184.50 C93.75,186.78 95.08,188.95 96.50,191.00 C97.92,193.05 100.25,195.83 101.00,196.80" fill="none" stroke="#008000" stroke-width="2.0" stroke-linejoin="round" stroke-linecap="round" />
<path d="M29.70,167.90 C32.72,167.90 42.92,167.83 47.80,167.90 C52.68,167.97 55.87,168.15 59.00,168.30 C62.13,168.45 64.08,168.55 66.60,168.80 C69.12,169.05 71.90,169.32 74.10,169.80 C76.30,170.28 78.07,170.92 79.80,171.70 C81.53,172.48 83.10,173.42 84.50,174.50 C85.90,175.58 87.23,176.70 88.20,178.20 C89.17,179.70 89.20,181.47 90.30,183.50 C91.40,185.53 93.30,188.28 94.80,190.40 C96.30,192.52 97.42,194.17 99.30,196.20 C101.18,198.23 103.82,200.60 106.10,202.60 C108.38,204.60 110.97,206.50 113.00,208.20 C115.03,209.90 116.92,211.60 118.30,212.80 C119.68,214.00 119.70,214.03 121.30,215.40 C122.90,216.77 125.70,219.37 127.90,221.00 C130.10,222.63 132.48,224.07 134.50,225.20 C136.52,226.33 138.10,226.97 140.00,227.80 C141.90,228.63 143.90,229.47 145.90,230.20 C147.90,230.93 149.98,231.60 152.00,232.20 C154.02,232.80 157.00,233.53 158.00,233.80" fill="none" stroke="#ff0000" stroke-width="1.1" stroke-linejoin="round" stroke-linecap="round" />
<path d="M29.70,239.60 C32.63,239.37 42.45,238.88 47.30,238.20 C52.15,237.52 55.35,236.72 58.80,235.50 C62.25,234.28 65.32,232.43 68.00,230.90 C70.68,229.37 73.03,227.65 74.90,226.30 C76.77,224.95 77.68,224.10 79.20,222.80 C80.72,221.50 82.48,219.83 84.00,218.50 C85.52,217.17 86.80,216.22 88.30,214.80 C89.80,213.38 91.47,211.55 93.00,210.00 C94.53,208.45 96.25,206.70 97.50,205.50 C98.75,204.30 99.58,203.28 100.50,202.80 C101.42,202.32 102.17,202.23 103.00,202.60 C103.83,202.97 104.67,203.85 105.50,205.00 C106.33,206.15 107.17,207.83 108.00,209.50 C108.83,211.17 109.67,213.25 110.50,215.00 C111.33,216.75 112.03,218.45 113.00,220.00 C113.97,221.55 114.65,222.67 116.30,224.30 C117.95,225.93 120.68,228.28 122.90,229.80 C125.12,231.32 126.75,232.30 129.60,233.40 C132.45,234.50 136.60,235.68 140.00,236.40 C143.40,237.12 147.00,237.38 150.00,237.70 C153.00,238.02 156.67,238.20 158.00,238.30" fill="none" stroke="#ff0000" stroke-width="1.1" stroke-linejoin="round" stroke-linecap="round" />
<rect x="193.2" y="232.9" width="126" height="5.3" fill="#000"/>
<path d="M194.80,232.14 L197.00,236.10 L192.60,236.10 Z" fill="#000"/><path d="M198.95,232.14 L201.15,236.10 L196.75,236.10 Z" fill="#000"/><path d="M203.10,232.14 L205.30,236.10 L200.90,236.10 Z" fill="#000"/><path d="M207.25,232.14 L209.45,236.10 L205.05,236.10 Z" fill="#000"/><path d="M211.40,232.14 L213.60,236.10 L209.20,236.10 Z" fill="#000"/><path d="M215.55,232.14 L217.75,236.10 L213.35,236.10 Z" fill="#000"/><path d="M219.70,232.14 L221.90,236.10 L217.50,236.10 Z" fill="#000"/><path d="M223.85,232.14 L226.05,236.10 L221.65,236.10 Z" fill="#000"/><path d="M228.00,232.14 L230.20,236.10 L225.80,236.10 Z" fill="#000"/><path d="M232.15,232.14 L234.35,236.10 L229.95,236.10 Z" fill="#000"/><path d="M236.30,232.14 L238.50,236.10 L234.10,236.10 Z" fill="#000"/><path d="M240.45,232.14 L242.65,236.10 L238.25,236.10 Z" fill="#000"/><path d="M244.60,232.14 L246.80,236.10 L242.40,236.10 Z" fill="#000"/><path d="M248.75,232.14 L250.95,236.10 L246.55,236.10 Z" fill="#000"/><path d="M252.90,232.14 L255.10,236.10 L250.70,236.10 Z" fill="#000"/><path d="M257.05,232.14 L259.25,236.10 L254.85,236.10 Z" fill="#000"/><path d="M261.20,232.14 L263.40,236.10 L259.00,236.10 Z" fill="#000"/><path d="M265.35,232.14 L267.55,236.10 L263.15,236.10 Z" fill="#000"/><path d="M269.50,232.14 L271.70,236.10 L267.30,236.10 Z" fill="#000"/><path d="M273.65,232.14 L275.85,236.10 L271.45,236.10 Z" fill="#000"/><path d="M277.80,232.14 L280.00,236.10 L275.60,236.10 Z" fill="#000"/><path d="M281.95,232.14 L284.15,236.10 L279.75,236.10 Z" fill="#000"/><path d="M286.10,232.14 L288.30,236.10 L283.90,236.10 Z" fill="#000"/><path d="M290.25,232.14 L292.45,236.10 L288.05,236.10 Z" fill="#000"/><path d="M294.40,232.14 L296.60,236.10 L292.20,236.10 Z" fill="#000"/><path d="M298.55,232.14 L300.75,236.10 L296.35,236.10 Z" fill="#000"/><path d="M302.70,232.14 L304.90,236.10 L300.50,236.10 Z" fill="#000"/><path d="M306.85,232.14 L309.05,236.10 L304.65,236.10 Z" fill="#000"/><path d="M311.00,232.14 L313.20,236.10 L308.80,236.10 Z" fill="#000"/><path d="M315.15,232.14 L317.35,236.10 L312.95,236.10 Z" fill="#000"/>
<path d="M237.50,233.00 C237.85,232.67 239.05,231.78 239.60,231.00 C240.15,230.22 240.47,229.22 240.80,228.30 C241.13,227.38 241.32,226.90 241.60,225.50 C241.88,224.10 242.25,219.82 242.50,219.90 C242.75,219.98 242.92,223.82 243.10,226.00 C243.28,228.18 243.52,231.83 243.60,233.00" fill="none" stroke="#ff0000" stroke-width="1.0" stroke-linejoin="round" stroke-linecap="round" />
<rect x="240.90" y="218.30" width="3.2" height="3.2" fill="#ff0000"/><rect x="240.20" y="224.10" width="2.8" height="2.8" fill="#ff0000"/><rect x="239.50" y="227.00" width="2.6" height="2.6" fill="#ff0000"/><rect x="238.40" y="229.80" width="2.4" height="2.4" fill="#ff0000"/>
<path d="M247.6,172 L250.0,172 L250.1,201 L247.3,201 Z" fill="#6a6aff"/>
<line x1="246.90" y1="225.00" x2="248.20" y2="149.00" stroke="#3030ff" stroke-width="1.4" />
<line x1="249.60" y1="149.00" x2="250.30" y2="235.50" stroke="#0000ff" stroke-width="1.6" />
<line x1="248.90" y1="148.80" x2="249.00" y2="176.00" stroke="#0000ff" stroke-width="2.4" />
<path d="M248.60,142.30 L250.90,144.60 L248.60,146.90 L246.30,144.60 Z" fill="#0000ff"/><path d="M245.80,223.75 L247.45,225.40 L245.80,227.05 L244.15,225.40 Z" fill="#0000ff"/><path d="M244.40,226.80 L245.90,228.30 L244.40,229.80 L242.90,228.30 Z" fill="#0000ff"/><path d="M243.20,229.20 L244.60,230.60 L243.20,232.00 L241.80,230.60 Z" fill="#0000ff"/>
<rect x="249.5" y="234.6" width="10.5" height="2.8" fill="#0000ff"/>
<path d="M260.1,210 L261.9,210 L262.3,228 L263.4,233 L257.4,233 L259.6,228 Z" fill="#000"/>
<path d="M261.00,204.63 L263.30,208.77 L258.70,208.77 Z" fill="#000"/>
<rect x="256.3" y="160.8" width="61.6" height="38.4" fill="#fff" stroke="#000" stroke-width="1.1"/>
<line x1="260.20" y1="170.20" x2="268.60" y2="170.20" stroke="#ff0000" stroke-width="1.5" />
<line x1="274.20" y1="170.20" x2="281.00" y2="170.20" stroke="#ff0000" stroke-width="1.5" />
<line x1="260.20" y1="181.90" x2="268.60" y2="181.90" stroke="#0000ff" stroke-width="1.5" />
<line x1="274.20" y1="181.90" x2="281.00" y2="181.90" stroke="#0000ff" stroke-width="1.5" />
<line x1="260.20" y1="193.60" x2="268.60" y2="193.60" stroke="#000" stroke-width="1.5" />
<line x1="274.20" y1="193.60" x2="281.00" y2="193.60" stroke="#000" stroke-width="1.5" />
<rect x="269.80" y="168.60" width="3.2" height="3.2" fill="#ff0000"/>
<path d="M271.40,179.90 L273.40,181.90 L271.40,183.90 L269.40,181.90 Z" fill="#0000ff"/>
<path d="M271.40,190.92 L273.80,195.24 L269.00,195.24 Z" fill="#000"/>
<text transform="translate(282.00,173.00) scale(0.95,1)" font-size="8.3" font-weight="bold" text-anchor="start" fill="#000" >0 wt.%</text>
<text transform="translate(282.00,184.80) scale(0.95,1)" font-size="8.3" font-weight="bold" text-anchor="start" fill="#000" >0.3 wt.%</text>
<text transform="translate(282.00,196.60) scale(0.95,1)" font-size="8.3" font-weight="bold" text-anchor="start" fill="#000" >0.5 wt.%</text>
<text x="30.27" y="45.50" font-size="10.47" font-weight="normal" text-anchor="start" fill="#000"  textLength="13.65" lengthAdjust="spacingAndGlyphs">SP</text>
<text transform="translate(43.71,45.55) scale(1.604,1)" font-size="11.44" font-weight="normal" text-anchor="start" fill="#000" font-family="Liberation Serif, Times New Roman, serif" >μ</text>
<text transform="translate(52.24,50.05) scale(1.254,1)" font-size="21.30" font-weight="normal" text-anchor="start" fill="#000" >'</text>
<text x="29.79" y="70.60" font-size="8.58" font-weight="normal" text-anchor="start" fill="#000"  textLength="13.46" lengthAdjust="spacingAndGlyphs">DW</text>
<text transform="translate(29.46,80.83) scale(1.127,1)" font-size="9.21" font-weight="normal" text-anchor="start" fill="#000" font-family="Liberation Serif, Times New Roman, serif" >μ</text>
<text transform="translate(34.85,82.80) scale(1.336,1)" font-size="12.50" font-weight="normal" text-anchor="start" fill="#000" >'</text>
<line x1="37.20" y1="79.80" x2="43.60" y2="74.80" stroke="#000" stroke-width="0.9" />
<path d="M43.60,74.80 L40.09,75.51 L42.06,78.03 Z" fill="#000"/>
<text x="40.08" y="108.20" font-size="8.72" font-weight="normal" text-anchor="start" fill="#000"  textLength="9.57" lengthAdjust="spacingAndGlyphs">SP</text>
<text transform="translate(49.14,107.10) scale(1.33,1)" font-size="9.81" font-weight="normal" text-anchor="start" fill="#000" font-family="Liberation Serif, Times New Roman, serif" >μ</text>
<text transform="translate(57.22,104.97) scale(1.231,1)" font-size="9.26" font-weight="normal" text-anchor="start" fill="#000" >''</text>
<line x1="49.30" y1="100.80" x2="53.20" y2="96.40" stroke="#000" stroke-width="0.9" />
<path d="M53.20,96.40 L49.88,97.73 L52.27,99.86 Z" fill="#000"/>
<text x="65.23" y="102.10" font-size="9.45" font-weight="normal" text-anchor="start" fill="#000"  textLength="13.44" lengthAdjust="spacingAndGlyphs">DW</text>
<text transform="translate(77.29,99.37) scale(1.556,1)" font-size="10.40" font-weight="normal" text-anchor="start" fill="#000" font-family="Liberation Serif, Times New Roman, serif" >μ</text>
<text transform="translate(85.71,99.93) scale(1.008,1)" font-size="13.43" font-weight="normal" text-anchor="start" fill="#000" >''</text>
<line x1="72.80" y1="87.40" x2="79.80" y2="93.40" stroke="#000" stroke-width="0.9" />
<path d="M79.80,93.40 L78.41,90.10 L76.33,92.53 Z" fill="#000"/>
<text x="197.03" y="36.50" font-size="11.19" font-weight="normal" text-anchor="start" fill="#000"  textLength="12.02" lengthAdjust="spacingAndGlyphs">SP</text>
<text transform="translate(208.49,35.97) scale(1.361,1)" font-size="12.78" font-weight="normal" text-anchor="start" fill="#000" font-family="Liberation Serif, Times New Roman, serif" >μ</text>
<text transform="translate(216.98,37.93) scale(1.082,1)" font-size="18.52" font-weight="normal" text-anchor="start" fill="#000" >'</text>
<text x="196.36" y="77.60" font-size="7.27" font-weight="normal" text-anchor="start" fill="#000"  textLength="11.13" lengthAdjust="spacingAndGlyphs">DW</text>
<text transform="translate(206.16,77.22) scale(1.821,1)" font-size="11.14" font-weight="normal" text-anchor="start" fill="#000" font-family="Liberation Serif, Times New Roman, serif" >μ</text>
<text transform="translate(216.31,77.23) scale(1.161,1)" font-size="13.43" font-weight="normal" text-anchor="start" fill="#000" >'</text>
<line x1="205.00" y1="80.00" x2="198.20" y2="86.80" stroke="#000" stroke-width="0.9" />
<path d="M198.20,86.80 L201.59,85.67 L199.33,83.41 Z" fill="#000"/>
<text x="232.23" y="82.20" font-size="7.85" font-weight="normal" text-anchor="start" fill="#000"  textLength="9.78" lengthAdjust="spacingAndGlyphs">SP</text>
<text transform="translate(240.23,81.50) scale(1.935,1)" font-size="9.36" font-weight="normal" text-anchor="start" fill="#000" font-family="Liberation Serif, Times New Roman, serif" >μ</text>
<text transform="translate(247.53,80.66) scale(0.8,1)" font-size="11.57" font-weight="normal" text-anchor="start" fill="#000" >''</text>
<line x1="236.80" y1="83.80" x2="234.00" y2="88.40" stroke="#000" stroke-width="0.9" />
<path d="M234.00,88.40 L237.03,86.50 L234.30,84.83 Z" fill="#000"/>
<text x="238.35" y="101.00" font-size="9.16" font-weight="normal" text-anchor="start" fill="#000"  textLength="12.52" lengthAdjust="spacingAndGlyphs">DW</text>
<text transform="translate(249.69,99.21) scale(1.513,1)" font-size="10.70" font-weight="normal" text-anchor="start" fill="#000" font-family="Liberation Serif, Times New Roman, serif" >μ</text>
<text transform="translate(256.53,98.64) scale(0.833,1)" font-size="11.11" font-weight="normal" text-anchor="start" fill="#000" >''</text>
<line x1="257.70" y1="100.60" x2="262.20" y2="105.00" stroke="#000" stroke-width="0.9" />
<path d="M262.20,105.00 L261.03,101.62 L258.79,103.91 Z" fill="#000"/>
<text x="30.27" y="178.00" font-size="10.47" font-weight="normal" text-anchor="start" fill="#000"  textLength="12.65" lengthAdjust="spacingAndGlyphs">SP</text>
<text transform="translate(41.69,178.69) scale(1.078,1)" font-size="15.01" font-weight="normal" text-anchor="start" fill="#000" font-family="Liberation Serif, Times New Roman, serif" >μ</text>
<text transform="translate(50.91,178.13) scale(1.161,1)" font-size="13.43" font-weight="normal" text-anchor="start" fill="#000" >'</text>
<line x1="58.90" y1="169.90" x2="51.60" y2="175.40" stroke="#000" stroke-width="0.9" />
<path d="M51.60,175.40 L55.12,174.75 L53.19,172.20 Z" fill="#000"/>
<text x="99.82" y="187.00" font-size="9.74" font-weight="normal" text-anchor="start" fill="#000"  textLength="12.57" lengthAdjust="spacingAndGlyphs">SP</text>
<text transform="translate(110.09,186.63) scale(1.345,1)" font-size="12.93" font-weight="normal" text-anchor="start" fill="#000" font-family="Liberation Serif, Times New Roman, serif" >μ</text>
<text transform="translate(118.92,189.41) scale(0.752,1)" font-size="20.37" font-weight="normal" text-anchor="start" fill="#000" >''</text>
<line x1="109.10" y1="190.90" x2="105.70" y2="194.90" stroke="#000" stroke-width="0.9" />
<path d="M105.70,194.90 L108.99,193.50 L106.55,191.43 Z" fill="#000"/>
<text x="30.94" y="221.50" font-size="7.70" font-weight="normal" text-anchor="start" fill="#000"  textLength="11.87" lengthAdjust="spacingAndGlyphs">DW</text>
<text transform="translate(44.49,222.13) scale(1.345,1)" font-size="12.93" font-weight="normal" text-anchor="start" fill="#000" font-family="Liberation Serif, Times New Roman, serif" >μ</text>
<text transform="translate(53.31,223.50) scale(0.886,1)" font-size="17.59" font-weight="normal" text-anchor="start" fill="#000" >'</text>
<text x="89.65" y="223.00" font-size="7.56" font-weight="normal" text-anchor="start" fill="#000"  textLength="13.36" lengthAdjust="spacingAndGlyphs">DW</text>
<text transform="translate(95.07,231.64) scale(1.626,1)" font-size="10.10" font-weight="normal" text-anchor="start" fill="#000" font-family="Liberation Serif, Times New Roman, serif" >μ</text>
<text transform="translate(102.71,230.90) scale(1.329,1)" font-size="10.19" font-weight="normal" text-anchor="start" fill="#000" >''</text>
<line x1="113.00" y1="239.60" x2="104.60" y2="231.00" stroke="#000" stroke-width="0.9" />
<path d="M104.60,231.00 L105.69,234.41 L107.98,232.17 Z" fill="#000"/>
<text transform="translate(56.69,18.19) scale(1.14,1)" font-size="14.58" font-weight="bold" text-anchor="start" fill="#0000ff" font-family="Liberation Serif, Times New Roman, serif" >μ</text>
<text transform="translate(63.63,18.11) scale(1.311,1)" font-size="15.74" font-weight="bold" text-anchor="start" fill="#0000ff" font-family="Liberation Serif, Times New Roman, serif" >'</text>
<text transform="translate(45.44,65.85) scale(0.938,1)" font-size="13.39" font-weight="bold" text-anchor="start" fill="#0000ff" font-family="Liberation Serif, Times New Roman, serif" >μ</text>
<text transform="translate(50.71,65.63) scale(1.018,1)" font-size="15.32" font-weight="bold" text-anchor="start" fill="#0000ff" font-family="Liberation Serif, Times New Roman, serif" >''</text>
<text transform="translate(229.41,17.77) scale(1.198,1)" font-size="12.80" font-weight="bold" text-anchor="start" fill="#0000ff" font-family="Liberation Serif, Times New Roman, serif" >μ</text>
<text transform="translate(235.47,16.86) scale(1.368,1)" font-size="12.77" font-weight="bold" text-anchor="start" fill="#0000ff" font-family="Liberation Serif, Times New Roman, serif" >'</text>
<text transform="translate(225.21,70.46) scale(1.015,1)" font-size="14.73" font-weight="bold" text-anchor="start" fill="#0000ff" font-family="Liberation Serif, Times New Roman, serif" >μ</text>
<text transform="translate(231.49,71.03) scale(0.837,1)" font-size="17.45" font-weight="bold" text-anchor="start" fill="#0000ff" font-family="Liberation Serif, Times New Roman, serif" >''</text>
<text transform="translate(77.71,152.45) scale(1.117,1)" font-size="13.39" font-weight="bold" text-anchor="start" fill="#0000ff" font-family="Liberation Serif, Times New Roman, serif" >μ</text>
<text transform="translate(83.21,152.33) scale(1.192,1)" font-size="15.32" font-weight="bold" text-anchor="start" fill="#0000ff" font-family="Liberation Serif, Times New Roman, serif" >'</text>
<text transform="translate(72.33,206.55) scale(0.993,1)" font-size="13.39" font-weight="bold" text-anchor="start" fill="#0000ff" font-family="Liberation Serif, Times New Roman, serif" >μ</text>
<text transform="translate(79.11,207.73) scale(0.823,1)" font-size="17.45" font-weight="bold" text-anchor="start" fill="#0000ff" font-family="Liberation Serif, Times New Roman, serif" >''</text>
</svg>
</body></html>
